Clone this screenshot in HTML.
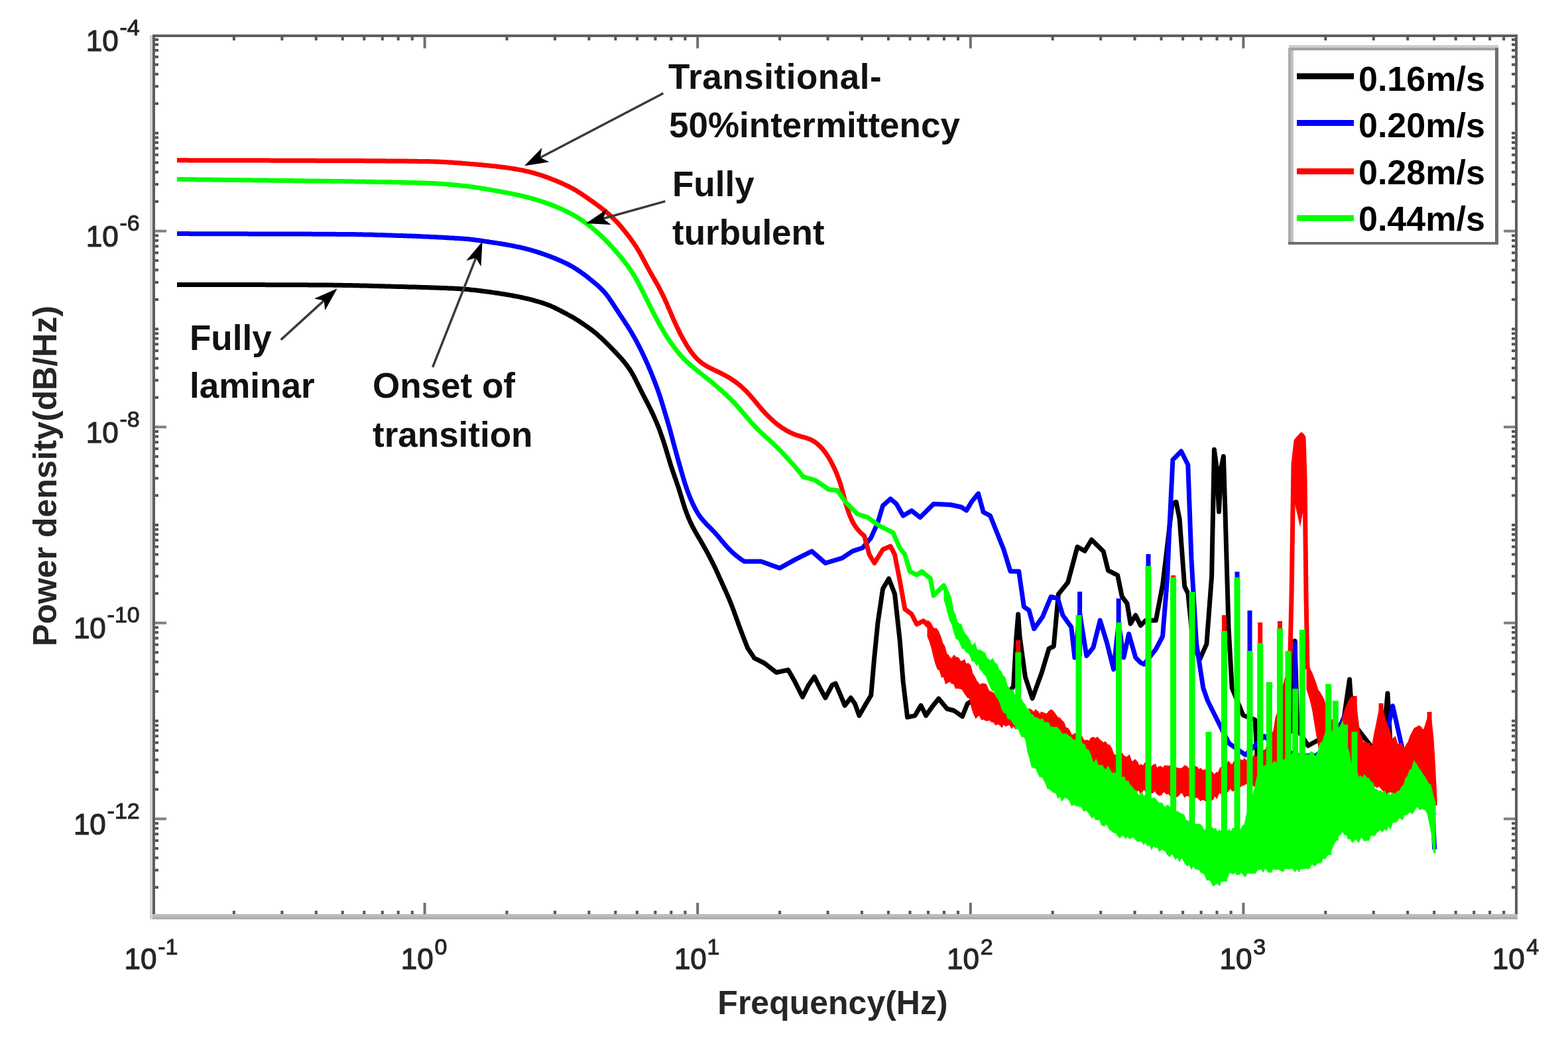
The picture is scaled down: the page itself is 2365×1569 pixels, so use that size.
<!DOCTYPE html>
<html><head><meta charset="utf-8"><title>Power density spectrum</title><style>html,body{margin:0;padding:0;background:#fff;overflow:hidden}svg{display:block}</style></head><body>
<svg width="2365" height="1569" viewBox="0 0 2365 1569">
<rect x="0" y="0" width="2365" height="1569" fill="#fff"/>
<polyline points="267.0,429.5 272.4,429.5 273.6,429.5 275.0,429.5 276.5,429.5 278.0,429.5 279.7,429.5 281.5,429.5 283.3,429.5 285.2,429.5 287.1,429.5 289.1,429.5 291.0,429.5 293.0,429.5 295.0,429.5 297.0,429.5 299.0,429.5 301.0,429.5 303.0,429.5 305.0,429.5 307.0,429.5 309.0,429.5 311.0,429.5 313.0,429.5 315.0,429.5 317.0,429.5 319.0,429.5 321.0,429.5 323.0,429.5 325.0,429.6 327.0,429.6 329.0,429.6 331.0,429.6 333.0,429.6 335.0,429.6 337.0,429.6 339.0,429.6 341.0,429.6 343.0,429.6 345.0,429.6 347.0,429.6 349.0,429.6 351.0,429.6 353.0,429.6 355.0,429.6 357.0,429.6 359.0,429.6 361.0,429.6 363.0,429.6 365.0,429.6 367.0,429.6 369.0,429.6 371.0,429.6 373.0,429.6 375.0,429.6 377.0,429.6 379.0,429.6 381.0,429.6 383.0,429.6 385.0,429.6 387.0,429.6 389.0,429.6 391.0,429.6 393.0,429.6 395.0,429.6 397.0,429.6 399.0,429.6 401.0,429.7 403.0,429.7 405.0,429.7 407.0,429.7 409.0,429.7 411.0,429.7 413.0,429.7 415.0,429.7 417.0,429.7 419.0,429.7 421.0,429.7 423.0,429.7 425.0,429.7 427.0,429.7 429.0,429.7 431.0,429.7 433.0,429.7 435.0,429.7 437.0,429.8 439.0,429.8 441.0,429.8 443.0,429.8 445.0,429.8 447.0,429.8 449.0,429.8 451.0,429.8 453.0,429.8 455.0,429.8 457.0,429.8 459.0,429.8 461.0,429.8 463.0,429.8 465.0,429.9 467.0,429.9 469.0,429.9 471.0,429.9 473.0,429.9 475.0,429.9 477.0,429.9 479.0,429.9 481.0,430.0 483.0,430.0 485.0,430.0 487.0,430.0 489.0,430.0 491.0,430.0 493.0,430.1 495.0,430.1 497.0,430.1 499.0,430.1 501.0,430.1 503.0,430.2 505.0,430.2 507.0,430.2 509.0,430.2 511.0,430.3 513.0,430.3 515.0,430.3 517.0,430.4 519.0,430.4 521.0,430.4 523.0,430.5 525.0,430.5 527.0,430.5 529.0,430.6 531.0,430.6 533.0,430.7 535.0,430.7 537.0,430.8 539.0,430.8 541.0,430.8 543.0,430.9 545.0,430.9 547.0,431.0 549.0,431.0 551.0,431.1 553.0,431.1 555.0,431.2 557.0,431.2 559.0,431.3 561.0,431.3 563.0,431.4 565.0,431.4 567.0,431.5 569.0,431.6 571.0,431.6 573.0,431.7 575.0,431.7 577.0,431.8 579.0,431.8 581.0,431.9 583.0,431.9 585.0,432.0 587.0,432.0 589.0,432.1 591.0,432.2 593.0,432.2 595.0,432.3 597.0,432.3 599.0,432.4 601.0,432.4 603.0,432.5 605.0,432.5 607.0,432.6 609.0,432.6 611.0,432.7 613.0,432.7 615.0,432.8 617.0,432.9 619.0,432.9 621.0,433.0 623.0,433.0 625.0,433.1 627.0,433.1 629.0,433.2 631.0,433.2 633.0,433.3 635.0,433.4 637.0,433.4 639.0,433.5 641.0,433.5 643.0,433.6 645.0,433.7 647.0,433.7 649.0,433.8 650.9,433.9 652.9,433.9 654.9,434.0 656.9,434.1 658.9,434.2 660.9,434.2 662.9,434.3 664.9,434.4 666.9,434.4 668.9,434.5 670.9,434.6 672.9,434.7 674.9,434.8 676.9,434.9 678.9,434.9 680.9,435.0 682.9,435.1 684.9,435.2 686.9,435.3 688.9,435.5 690.9,435.6 692.9,435.7 694.9,435.8 696.9,436.0 698.9,436.1 700.9,436.3 702.9,436.4 704.9,436.6 706.9,436.8 708.9,437.0 710.8,437.2 712.8,437.4 714.8,437.6 716.8,437.8 718.8,438.0 720.8,438.3 722.8,438.5 724.8,438.7 726.7,439.0 728.7,439.2 730.7,439.5 732.7,439.7 734.7,440.0 736.7,440.3 738.6,440.5 740.6,440.8 742.6,441.1 744.6,441.4 746.6,441.7 748.5,441.9 750.5,442.2 752.5,442.5 754.5,442.9 756.4,443.2 758.4,443.5 760.4,443.8 762.4,444.1 764.3,444.5 766.3,444.8 768.3,445.1 770.2,445.5 772.2,445.8 774.2,446.2 776.1,446.6 778.1,447.0 780.1,447.3 782.0,447.7 784.0,448.1 785.9,448.5 787.9,449.0 789.9,449.4 791.8,449.8 793.7,450.3 795.7,450.7 797.6,451.2 799.6,451.7 801.5,452.2 803.4,452.7 805.4,453.2 807.3,453.8 809.2,454.3 811.1,454.9 813.1,455.4 815.0,456.0 816.9,456.6 818.8,457.2 820.7,457.8 822.6,458.5 824.4,459.2 826.3,459.9 828.1,460.6 830.0,461.3 831.8,462.1 833.6,462.9 835.4,463.7 837.2,464.6 839.0,465.5 840.8,466.4 842.6,467.3 844.4,468.2 846.1,469.1 847.9,470.0 849.7,470.9 851.4,471.9 853.2,472.8 855.0,473.7 856.7,474.7 858.5,475.7 860.2,476.6 862.0,477.6 863.7,478.6 865.4,479.6 867.1,480.6 868.8,481.7 870.5,482.7 872.2,483.8 873.9,484.9 875.5,486.0 877.2,487.1 878.9,488.2 880.5,489.3 882.2,490.5 883.8,491.6 885.4,492.7 887.1,493.9 888.7,495.1 890.3,496.2 891.9,497.4 893.5,498.6 895.1,499.9 896.6,501.1 898.2,502.4 899.7,503.6 901.2,504.9 902.7,506.3 904.2,507.6 905.7,508.9 907.2,510.3 908.6,511.6 910.1,513.0 911.5,514.4 912.9,515.8 914.4,517.2 915.8,518.6 917.2,520.0 918.6,521.4 920.0,522.9 921.4,524.3 922.8,525.7 924.2,527.1 925.6,528.6 927.0,530.0 928.4,531.5 929.7,532.9 931.1,534.4 932.5,535.9 933.8,537.3 935.2,538.8 936.5,540.3 937.8,541.8 939.1,543.3 940.4,544.8 941.7,546.4 942.9,547.9 944.2,549.5 945.4,551.1 946.6,552.7 947.7,554.3 948.9,555.9 950.0,557.6 951.1,559.2 952.1,560.9 953.2,562.6 954.1,564.4 955.1,566.1 956.1,567.8 957.0,569.6 957.9,571.4 958.8,573.2 959.7,575.0 960.6,576.8 961.5,578.5 962.3,580.3 963.2,582.1 964.1,583.9 965.0,585.7 965.9,587.5 966.8,589.3 967.7,591.1 968.6,592.9 969.5,594.6 970.4,596.4 971.4,598.2 972.3,600.0 973.2,601.7 974.1,603.5 975.1,605.3 976.0,607.1 976.9,608.8 977.8,610.6 978.7,612.4 979.6,614.2 980.5,616.0 981.4,617.8 982.2,619.6 983.1,621.4 984.0,623.2 984.8,625.0 985.6,626.8 986.5,628.6 987.3,630.5 988.1,632.3 988.9,634.1 989.7,636.0 990.5,637.8 991.2,639.6 992.0,641.5 992.7,643.3 993.5,645.2 994.2,647.1 994.9,648.9 995.6,650.8 996.3,652.7 996.9,654.6 997.6,656.5 998.2,658.3 998.9,660.2 999.5,662.1 1000.1,664.0 1000.8,665.9 1001.4,667.8 1002.0,669.7 1002.6,671.7 1003.2,673.6 1003.8,675.5 1004.4,677.4 1004.9,679.3 1005.5,681.2 1006.1,683.1 1006.7,685.0 1007.2,687.0 1007.8,688.9 1008.4,690.8 1009.0,692.7 1009.6,694.6 1010.1,696.5 1010.7,698.4 1011.3,700.4 1011.9,702.3 1012.5,704.2 1013.2,706.1 1013.8,708.0 1014.4,709.9 1015.0,711.8 1015.7,713.6 1016.3,715.5 1017.0,717.4 1017.6,719.3 1018.3,721.2 1019.0,723.1 1019.6,725.0 1020.3,726.9 1020.9,728.8 1021.6,730.7 1022.2,732.5 1022.9,734.4 1023.5,736.3 1024.1,738.2 1024.7,740.1 1025.3,742.1 1025.9,744.0 1026.5,745.9 1027.1,747.8 1027.7,749.7 1028.3,751.6 1028.8,753.5 1029.4,755.4 1030.0,757.3 1030.6,759.3 1031.2,761.2 1031.8,763.1 1032.4,765.0 1033.0,766.9 1033.7,768.8 1034.4,770.6 1035.0,772.5 1035.7,774.4 1036.5,776.3 1037.2,778.1 1037.9,780.0 1038.7,781.8 1039.5,783.6 1040.3,785.5 1041.1,787.3 1042.0,789.1 1042.9,790.9 1043.7,792.7 1044.6,794.5 1045.5,796.2 1046.5,798.0 1047.4,799.8 1048.4,801.5 1049.4,803.2 1050.4,805.0 1051.4,806.7 1052.4,808.4 1053.4,810.2 1054.4,811.9 1055.4,813.6 1056.4,815.3 1057.4,817.1 1058.4,818.8 1059.4,820.5 1060.4,822.2 1061.4,824.0 1062.4,825.7 1063.4,827.5 1064.4,829.2 1065.3,831.0 1066.3,832.7 1067.2,834.5 1068.2,836.2 1069.1,838.0 1070.1,839.8 1071.0,841.5 1071.9,843.3 1072.8,845.1 1073.7,846.9 1074.6,848.7 1075.5,850.4 1076.4,852.2 1077.3,854.0 1078.2,855.8 1079.0,857.6 1079.9,859.5 1080.7,861.3 1081.5,863.1 1082.4,864.9 1083.2,866.7 1084.0,868.6 1084.8,870.4 1085.6,872.2 1086.5,874.0 1087.3,875.9 1088.1,877.7 1088.9,879.5 1089.7,881.3 1090.6,883.2 1091.4,885.0 1092.2,886.8 1093.0,888.6 1093.9,890.4 1094.7,892.3 1095.5,894.1 1096.3,895.9 1097.1,897.7 1097.9,899.6 1098.7,901.4 1099.5,903.2 1100.3,905.1 1101.0,906.9 1101.8,908.8 1102.5,910.6 1103.3,912.5 1104.0,914.4 1104.7,916.2 1105.4,918.1 1106.1,920.0 1106.8,921.9 1107.5,923.7 1108.1,925.6 1108.8,927.5 1109.5,929.4 1110.2,931.3 1110.8,933.2 1111.5,935.0 1112.2,936.9 1112.9,938.8 1113.5,940.7 1114.2,942.6 1114.9,944.4 1115.6,946.3 1116.3,948.2 1117.0,950.1 1117.7,951.9 1118.4,953.8 1119.1,955.6 1119.8,957.4 1120.5,959.2 1121.1,961.0 1121.8,962.7 1122.4,964.3 1123.1,965.9 1123.6,967.4 1124.2,968.8 1124.7,970.0 1125.1,971.2 1127.6,977.6 1137.8,992.9 1153.0,1000.5 1171.0,1014.5 1188.8,1010.7 1199.0,1028.6 1210.5,1051.5 1219.4,1033.7 1228.3,1021.0 1237.2,1038.8 1244.9,1052.8 1255.1,1033.7 1260.2,1031.1 1267.9,1049.0 1274.2,1064.3 1283.2,1052.8 1289.5,1061.7 1295.9,1079.6 1306.1,1061.7 1313.8,1049.0 1318.9,990.3 1324.0,939.3 1331.6,888.3 1340.6,873.0 1349.5,896.0 1357.1,964.8 1362.2,1028.6 1368.6,1082.1 1380.1,1079.6 1389.0,1064.3 1396.7,1079.6 1405.6,1066.8 1415.8,1054.0 1428.6,1069.4 1438.8,1072.0 1451.5,1080.9 1459.2,1061.7 1466.8,1056.6 1490.0,1070.0 1510.0,1060.0 1528.6,1035.7 1533.0,960.0 1535.7,926.8 1538.0,960.0 1546.4,1021.4 1557.1,1053.6 1571.4,1014.3 1582.1,978.6 1589.3,975.0 1596.4,896.4 1610.7,878.6 1625.0,825.0 1636.2,831.3 1646.4,814.3 1664.3,832.0 1671.4,860.7 1685.7,867.9 1692.3,900.2 1700.0,910.4 1705.1,941.0 1712.8,928.3 1720.4,943.6 1728.1,935.9 1743.4,935.9 1753.6,882.3 1761.2,818.6 1768.0,760.0 1774.0,757.3 1779.1,782.9 1786.7,884.9 1791.8,895.0 1799.5,971.6 1809.7,994.6 1819.9,971.6 1827.6,869.6 1831.4,678.3 1835.0,705.0 1838.5,772.0 1842.0,705.0 1845.4,688.5 1848.0,772.7 1853.0,946.1 1858.2,1038.0 1875.0,1079.0 1893.0,1086.0 1896.0,1139.0 1920.0,1130.0 1950.0,1100.0 1953.0,967.0 1957.0,1100.0 1973.0,1125.0 2000.0,1110.0 2026.0,1090.0 2035.5,1025.0 2040.0,1090.0 2068.0,1126.0 2081.4,1172.2 2092.9,1046.0 2098.0,1140.0 2104.4,1157.0 2130.0,1170.0 2163.0,1230.0" fill="none" stroke="#000" stroke-width="7" stroke-linejoin="round" stroke-linecap="butt" />
<polyline points="267.0,352.6 272.4,352.6 273.6,352.6 275.0,352.6 276.5,352.6 278.0,352.6 279.7,352.6 281.5,352.6 283.3,352.6 285.2,352.6 287.1,352.7 289.1,352.7 291.0,352.7 293.0,352.7 295.0,352.7 297.0,352.7 299.0,352.7 301.0,352.7 303.0,352.7 305.0,352.7 307.0,352.7 309.0,352.7 311.0,352.7 313.0,352.7 315.0,352.7 317.0,352.7 319.0,352.7 321.0,352.7 323.0,352.7 325.0,352.7 327.0,352.7 329.0,352.7 331.0,352.8 333.0,352.8 335.0,352.8 337.0,352.8 339.0,352.8 341.0,352.8 343.0,352.8 345.0,352.8 347.0,352.8 349.0,352.8 351.0,352.8 353.0,352.8 355.0,352.8 357.0,352.8 359.0,352.8 361.0,352.8 363.0,352.8 365.0,352.8 367.0,352.8 369.0,352.8 371.0,352.8 373.0,352.8 375.0,352.9 377.0,352.9 379.0,352.9 381.0,352.9 383.0,352.9 385.0,352.9 387.0,352.9 389.0,352.9 391.0,352.9 393.0,352.9 395.0,352.9 397.0,352.9 399.0,352.9 401.0,352.9 403.0,352.9 405.0,352.9 407.0,352.9 409.0,352.9 411.0,352.9 413.0,353.0 415.0,353.0 417.0,353.0 419.0,353.0 421.0,353.0 423.0,353.0 425.0,353.0 427.0,353.0 429.0,353.0 431.0,353.0 433.0,353.0 435.0,353.0 437.0,353.0 439.0,353.0 441.0,353.0 443.0,353.0 445.0,353.1 447.0,353.1 449.0,353.1 451.0,353.1 453.0,353.1 455.0,353.1 457.0,353.1 459.0,353.1 461.0,353.1 463.0,353.1 465.0,353.1 467.0,353.1 469.0,353.1 471.0,353.2 473.0,353.2 475.0,353.2 477.0,353.2 479.0,353.2 481.0,353.2 483.0,353.2 485.0,353.2 487.0,353.2 489.0,353.2 491.0,353.3 493.0,353.3 495.0,353.3 497.0,353.3 499.0,353.3 501.0,353.3 503.0,353.3 505.0,353.3 507.0,353.4 509.0,353.4 511.0,353.4 513.0,353.4 515.0,353.4 517.0,353.4 519.0,353.5 521.0,353.5 523.0,353.5 525.0,353.5 527.0,353.5 529.0,353.6 531.0,353.6 533.0,353.6 535.0,353.6 537.0,353.7 539.0,353.7 541.0,353.7 543.0,353.8 545.0,353.8 547.0,353.8 549.0,353.9 551.0,353.9 553.0,354.0 555.0,354.0 557.0,354.0 559.0,354.1 561.0,354.1 563.0,354.2 565.0,354.2 567.0,354.3 569.0,354.4 571.0,354.4 573.0,354.5 575.0,354.5 577.0,354.6 579.0,354.7 581.0,354.7 583.0,354.8 585.0,354.9 587.0,354.9 589.0,355.0 591.0,355.1 593.0,355.2 595.0,355.2 597.0,355.3 599.0,355.4 601.0,355.4 603.0,355.5 605.0,355.6 607.0,355.6 609.0,355.7 611.0,355.8 613.0,355.8 615.0,355.9 617.0,356.0 619.0,356.0 621.0,356.1 623.0,356.2 625.0,356.3 627.0,356.3 629.0,356.4 631.0,356.5 632.9,356.6 634.9,356.7 636.9,356.8 638.9,356.9 640.9,356.9 642.9,357.0 644.9,357.1 646.9,357.2 648.9,357.3 650.9,357.4 652.9,357.5 654.9,357.6 656.9,357.7 658.9,357.8 660.9,357.9 662.9,358.0 664.9,358.1 666.9,358.2 668.9,358.3 670.9,358.4 672.9,358.5 674.9,358.7 676.9,358.8 678.9,358.9 680.9,359.0 682.9,359.1 684.9,359.2 686.9,359.4 688.9,359.5 690.9,359.6 692.9,359.7 694.9,359.9 696.9,360.0 698.8,360.1 700.8,360.3 702.8,360.5 704.8,360.6 706.8,360.8 708.8,361.0 710.8,361.2 712.8,361.4 714.8,361.7 716.7,361.9 718.7,362.2 720.7,362.4 722.7,362.7 724.7,363.0 726.6,363.3 728.6,363.6 730.6,363.9 732.6,364.2 734.6,364.5 736.5,364.8 738.5,365.1 740.5,365.4 742.5,365.7 744.4,366.0 746.4,366.3 748.4,366.6 750.4,366.9 752.3,367.2 754.3,367.5 756.3,367.8 758.3,368.2 760.2,368.5 762.2,368.8 764.2,369.2 766.1,369.5 768.1,369.9 770.1,370.2 772.0,370.6 774.0,371.0 776.0,371.4 777.9,371.8 779.9,372.2 781.8,372.6 783.8,373.0 785.7,373.5 787.7,373.9 789.6,374.4 791.6,374.9 793.5,375.4 795.4,375.9 797.4,376.4 799.3,376.9 801.2,377.4 803.2,378.0 805.1,378.6 807.0,379.1 808.9,379.7 810.8,380.3 812.7,380.9 814.6,381.6 816.5,382.2 818.4,382.9 820.3,383.5 822.2,384.2 824.0,384.9 825.9,385.5 827.8,386.2 829.7,386.9 831.5,387.7 833.4,388.4 835.2,389.1 837.1,389.9 839.0,390.6 840.8,391.4 842.6,392.2 844.5,393.0 846.3,393.8 848.1,394.6 849.9,395.4 851.7,396.3 853.5,397.1 855.3,398.0 857.1,398.9 858.9,399.9 860.6,400.8 862.4,401.8 864.1,402.8 865.8,403.8 867.5,404.9 869.2,405.9 870.9,407.0 872.5,408.1 874.2,409.3 875.8,410.4 877.4,411.6 879.0,412.7 880.7,413.9 882.3,415.1 883.8,416.3 885.4,417.5 887.0,418.8 888.6,420.0 890.1,421.3 891.7,422.5 893.2,423.8 894.8,425.1 896.3,426.3 897.8,427.6 899.4,428.9 900.9,430.2 902.4,431.5 903.8,432.9 905.3,434.2 906.7,435.6 908.1,437.0 909.5,438.5 910.9,439.9 912.2,441.4 913.4,442.9 914.7,444.5 915.9,446.0 917.1,447.6 918.3,449.2 919.4,450.9 920.5,452.5 921.7,454.2 922.8,455.8 923.9,457.5 925.0,459.2 926.0,460.8 927.1,462.5 928.2,464.2 929.3,465.9 930.4,467.5 931.5,469.2 932.6,470.9 933.7,472.5 934.8,474.2 935.9,475.9 937.0,477.5 938.1,479.2 939.2,480.9 940.3,482.5 941.4,484.2 942.5,485.9 943.6,487.6 944.7,489.2 945.8,490.9 946.9,492.6 947.9,494.3 949.0,496.0 950.1,497.7 951.1,499.4 952.1,501.1 953.1,502.8 954.2,504.6 955.1,506.3 956.1,508.0 957.1,509.8 958.1,511.5 959.0,513.3 960.0,515.0 960.9,516.8 961.9,518.6 962.8,520.3 963.7,522.1 964.6,523.9 965.5,525.7 966.4,527.5 967.3,529.3 968.2,531.1 969.0,532.9 969.9,534.7 970.8,536.5 971.6,538.3 972.4,540.1 973.3,541.9 974.1,543.7 974.9,545.6 975.7,547.4 976.6,549.2 977.4,551.0 978.1,552.9 978.9,554.7 979.7,556.6 980.5,558.4 981.3,560.2 982.0,562.1 982.8,563.9 983.5,565.8 984.3,567.7 985.0,569.5 985.7,571.4 986.5,573.2 987.2,575.1 987.9,577.0 988.6,578.8 989.3,580.7 990.0,582.6 990.7,584.5 991.4,586.3 992.1,588.2 992.7,590.1 993.4,592.0 994.0,593.9 994.7,595.8 995.3,597.7 995.9,599.6 996.5,601.5 997.2,603.4 997.7,605.3 998.3,607.2 998.9,609.1 999.5,611.0 1000.1,612.9 1000.6,614.9 1001.2,616.8 1001.8,618.7 1002.4,620.6 1002.9,622.5 1003.5,624.4 1004.1,626.4 1004.7,628.3 1005.2,630.2 1005.8,632.1 1006.4,634.0 1006.9,635.9 1007.5,637.9 1008.1,639.8 1008.6,641.7 1009.2,643.6 1009.7,645.5 1010.3,647.5 1010.8,649.4 1011.3,651.3 1011.8,653.3 1012.3,655.2 1012.9,657.1 1013.4,659.1 1013.9,661.0 1014.4,662.9 1014.9,664.9 1015.4,666.8 1015.9,668.7 1016.4,670.7 1017.0,672.6 1017.5,674.5 1018.0,676.5 1018.5,678.4 1019.1,680.3 1019.6,682.2 1020.1,684.2 1020.6,686.1 1021.2,688.0 1021.7,689.9 1022.3,691.9 1022.8,693.8 1023.3,695.7 1023.9,697.6 1024.4,699.6 1025.0,701.5 1025.5,703.4 1026.1,705.3 1026.6,707.3 1027.2,709.2 1027.7,711.1 1028.3,713.0 1028.8,715.0 1029.4,716.9 1029.9,718.8 1030.5,720.7 1031.1,722.6 1031.6,724.6 1032.2,726.5 1032.8,728.4 1033.4,730.3 1034.0,732.2 1034.7,734.1 1035.3,736.0 1036.0,737.9 1036.6,739.7 1037.3,741.6 1038.0,743.5 1038.7,745.4 1039.5,747.2 1040.2,749.1 1040.9,750.9 1041.7,752.8 1042.5,754.6 1043.3,756.4 1044.1,758.3 1044.9,760.1 1045.8,761.9 1046.7,763.7 1047.6,765.5 1048.5,767.2 1049.4,769.0 1050.4,770.7 1051.4,772.4 1052.4,774.1 1053.5,775.8 1054.6,777.5 1055.7,779.1 1056.9,780.7 1058.1,782.3 1059.4,783.8 1060.6,785.3 1062.0,786.8 1063.3,788.3 1064.7,789.7 1066.0,791.2 1067.4,792.6 1068.8,794.0 1070.2,795.4 1071.6,796.8 1073.0,798.2 1074.4,799.7 1075.8,801.1 1077.2,802.5 1078.5,804.0 1079.9,805.5 1081.2,807.0 1082.5,808.5 1083.8,810.0 1085.1,811.5 1086.4,813.1 1087.6,814.6 1088.9,816.1 1090.2,817.7 1091.5,819.2 1092.8,820.7 1094.1,822.2 1095.4,823.7 1096.7,825.2 1098.1,826.7 1099.5,828.1 1100.8,829.5 1102.2,830.9 1103.6,832.3 1105.1,833.6 1106.5,834.9 1107.9,836.1 1109.3,837.3 1110.7,838.4 1112.0,839.4 1113.2,840.4 1114.4,841.3 1115.5,842.1 1116.4,842.8 1122.4,847.0 1148.0,847.0 1176.0,857.1 1199.0,844.4 1224.5,831.6 1244.9,849.5 1270.4,841.8 1285.7,831.6 1301.0,826.5 1313.8,811.2 1324.0,788.3 1331.6,762.8 1343.1,752.6 1352.0,760.2 1362.2,778.0 1375.0,770.4 1387.8,780.6 1408.2,760.2 1433.7,761.5 1450.0,765.0 1457.7,770.1 1465.3,757.3 1475.5,744.6 1483.2,772.7 1493.4,777.8 1503.6,803.3 1513.8,828.8 1524.0,862.0 1536.7,862.0 1544.4,915.5 1552.0,920.6 1559.7,948.7 1572.4,930.8 1585.2,900.2 1595.4,902.8 1603.0,928.3 1615.8,946.1 1620.9,992.0 1628.6,925.0 1638.8,989.5 1649.0,976.7 1659.2,935.9 1669.4,969.1 1679.6,1009.9 1687.2,940.0 1694.9,992.0 1702.6,956.3 1712.8,992.0 1720.4,999.7 1725.5,1002.2 1743.4,979.3 1753.6,960.0 1760.7,871.4 1763.8,798.2 1768.9,693.6 1781.6,680.8 1791.8,701.2 1797.0,844.0 1804.6,971.6 1814.8,1038.0 1821.4,1057.0 1835.7,1085.7 1853.6,1121.4 1878.6,1139.0 1907.0,1110.7 1930.0,1130.0 1960.0,1140.0 1985.0,1140.0 2010.0,1120.0 2035.5,1063.2 2050.0,1120.0 2066.0,1134.0 2079.5,1164.6 2100.6,1065.0 2114.0,1124.4 2125.5,1172.2 2148.4,1162.7 2160.0,1200.0 2163.7,1281.3" fill="none" stroke="#00f" stroke-width="7" stroke-linejoin="round" stroke-linecap="butt" />
<line x1="1628.6" y1="892.6" x2="1628.6" y2="990.0" stroke="#00f" stroke-width="7"/><line x1="1687.2" y1="902.8" x2="1687.2" y2="1000.0" stroke="#00f" stroke-width="7"/><line x1="1732.0" y1="836.0" x2="1732.0" y2="1000.0" stroke="#00f" stroke-width="7"/><line x1="1866.0" y1="862.5" x2="1866.0" y2="1130.0" stroke="#00f" stroke-width="7"/><line x1="1885.0" y1="921.0" x2="1885.0" y2="1139.0" stroke="#00f" stroke-width="7"/><line x1="1953.5" y1="968.0" x2="1953.5" y2="1140.0" stroke="#00f" stroke-width="7"/>
<polyline points="267.0,241.8 272.4,241.8 273.6,241.8 275.0,241.8 276.5,241.8 278.0,241.8 279.7,241.8 281.5,241.8 283.3,241.8 285.2,241.9 287.1,241.9 289.1,241.9 291.0,241.9 293.0,241.9 295.0,241.9 297.0,241.9 299.0,241.9 301.0,241.9 303.0,241.9 305.0,241.9 307.0,241.9 309.0,241.9 311.0,241.9 313.0,241.9 315.0,241.9 317.0,241.9 319.0,241.9 321.0,241.9 323.0,241.9 325.0,242.0 327.0,242.0 329.0,242.0 331.0,242.0 333.0,242.0 335.0,242.0 337.0,242.0 339.0,242.0 341.0,242.0 343.0,242.0 345.0,242.0 347.0,242.0 349.0,242.0 351.0,242.0 353.0,242.0 355.0,242.0 357.0,242.0 359.0,242.0 361.0,242.0 363.0,242.0 365.0,242.0 367.0,242.0 369.0,242.1 371.0,242.1 373.0,242.1 375.0,242.1 377.0,242.1 379.0,242.1 381.0,242.1 383.0,242.1 385.0,242.1 387.0,242.1 389.0,242.1 391.0,242.1 393.0,242.1 395.0,242.1 397.0,242.1 399.0,242.1 401.0,242.1 403.0,242.1 405.0,242.1 407.0,242.1 409.0,242.2 411.0,242.2 413.0,242.2 415.0,242.2 417.0,242.2 419.0,242.2 421.0,242.2 423.0,242.2 425.0,242.2 427.0,242.2 429.0,242.2 431.0,242.2 433.0,242.2 435.0,242.2 437.0,242.2 439.0,242.2 441.0,242.2 443.0,242.2 445.0,242.3 447.0,242.3 449.0,242.3 451.0,242.3 453.0,242.3 455.0,242.3 457.0,242.3 459.0,242.3 461.0,242.3 463.0,242.3 465.0,242.3 467.0,242.3 469.0,242.3 471.0,242.3 473.0,242.3 475.0,242.3 477.0,242.4 479.0,242.4 481.0,242.4 483.0,242.4 485.0,242.4 487.0,242.4 489.0,242.4 491.0,242.4 493.0,242.4 495.0,242.4 497.0,242.4 499.0,242.4 501.0,242.4 503.0,242.4 505.0,242.5 507.0,242.5 509.0,242.5 511.0,242.5 513.0,242.5 515.0,242.5 517.0,242.5 519.0,242.5 521.0,242.5 523.0,242.5 525.0,242.5 527.0,242.5 529.0,242.6 531.0,242.6 533.0,242.6 535.0,242.6 537.0,242.6 539.0,242.6 541.0,242.6 543.0,242.6 545.0,242.6 547.0,242.6 549.0,242.6 551.0,242.7 553.0,242.7 555.0,242.7 557.0,242.7 559.0,242.7 561.0,242.7 563.0,242.7 565.0,242.7 567.0,242.8 569.0,242.8 571.0,242.8 573.0,242.8 575.0,242.8 577.0,242.8 579.0,242.8 581.0,242.8 583.0,242.9 585.0,242.9 587.0,242.9 589.0,242.9 591.0,242.9 593.0,242.9 595.0,243.0 597.0,243.0 599.0,243.0 601.0,243.0 603.0,243.0 605.0,243.1 607.0,243.1 609.0,243.1 611.0,243.1 613.0,243.1 615.0,243.2 617.0,243.2 619.0,243.2 621.0,243.2 623.0,243.3 625.0,243.3 627.0,243.3 629.0,243.3 631.0,243.4 633.0,243.4 635.0,243.4 637.0,243.4 639.0,243.5 641.0,243.5 643.0,243.5 645.0,243.6 647.0,243.6 649.0,243.7 651.0,243.7 653.0,243.8 655.0,243.8 657.0,243.9 659.0,244.0 661.0,244.0 663.0,244.1 665.0,244.2 667.0,244.3 669.0,244.4 671.0,244.5 673.0,244.6 675.0,244.7 677.0,244.9 679.0,245.0 681.0,245.1 682.9,245.3 684.9,245.4 686.9,245.5 688.9,245.7 690.9,245.8 692.9,246.0 694.9,246.1 696.9,246.3 698.9,246.5 700.9,246.6 702.9,246.8 704.9,246.9 706.9,247.1 708.9,247.3 710.9,247.4 712.9,247.6 714.8,247.7 716.8,247.9 718.8,248.1 720.8,248.3 722.8,248.4 724.8,248.6 726.8,248.8 728.8,249.0 730.8,249.2 732.8,249.4 734.8,249.6 736.8,249.8 738.7,250.0 740.7,250.2 742.7,250.4 744.7,250.6 746.7,250.8 748.7,251.0 750.7,251.3 752.7,251.5 754.6,251.7 756.6,252.0 758.6,252.2 760.6,252.5 762.6,252.8 764.6,253.0 766.5,253.3 768.5,253.6 770.5,253.9 772.5,254.2 774.4,254.5 776.4,254.8 778.4,255.2 780.4,255.5 782.3,255.9 784.3,256.2 786.3,256.6 788.2,257.0 790.2,257.4 792.1,257.8 794.1,258.3 796.0,258.7 798.0,259.2 799.9,259.7 801.8,260.2 803.8,260.7 805.7,261.2 807.6,261.8 809.5,262.3 811.4,262.9 813.4,263.5 815.3,264.1 817.2,264.7 819.1,265.3 820.9,266.0 822.8,266.7 824.7,267.3 826.6,268.0 828.5,268.7 830.3,269.4 832.2,270.2 834.0,270.9 835.9,271.6 837.8,272.4 839.6,273.1 841.4,273.9 843.3,274.7 845.1,275.5 847.0,276.3 848.8,277.1 850.6,277.9 852.4,278.8 854.2,279.6 856.0,280.5 857.8,281.4 859.6,282.3 861.4,283.2 863.1,284.1 864.9,285.1 866.6,286.1 868.3,287.1 870.0,288.1 871.7,289.2 873.4,290.2 875.1,291.3 876.8,292.4 878.4,293.5 880.1,294.6 881.7,295.8 883.4,296.9 885.0,298.0 886.7,299.2 888.3,300.3 889.9,301.5 891.6,302.6 893.2,303.8 894.8,305.0 896.5,306.1 898.1,307.3 899.7,308.5 901.3,309.7 902.9,310.8 904.5,312.1 906.1,313.3 907.7,314.5 909.2,315.7 910.8,317.0 912.4,318.2 913.9,319.5 915.4,320.8 917.0,322.1 918.5,323.4 920.0,324.7 921.4,326.0 922.9,327.4 924.3,328.8 925.8,330.2 927.2,331.6 928.6,333.0 930.0,334.4 931.3,335.9 932.7,337.4 934.0,338.9 935.3,340.4 936.6,341.9 937.9,343.4 939.2,345.0 940.4,346.5 941.7,348.1 942.9,349.6 944.2,351.2 945.4,352.8 946.6,354.3 947.9,355.9 949.1,357.5 950.3,359.1 951.4,360.7 952.6,362.3 953.8,364.0 954.9,365.6 956.1,367.2 957.2,368.9 958.3,370.5 959.4,372.2 960.5,373.9 961.5,375.6 962.6,377.3 963.6,379.0 964.6,380.7 965.6,382.5 966.6,384.2 967.5,386.0 968.5,387.7 969.4,389.5 970.4,391.2 971.3,393.0 972.3,394.8 973.2,396.6 974.1,398.3 975.1,400.1 976.0,401.9 976.9,403.6 977.9,405.4 978.8,407.1 979.8,408.9 980.8,410.6 981.8,412.4 982.8,414.1 983.7,415.8 984.7,417.6 985.7,419.3 986.7,421.0 987.7,422.8 988.7,424.5 989.7,426.2 990.7,428.0 991.7,429.7 992.7,431.5 993.6,433.2 994.6,435.0 995.5,436.8 996.4,438.5 997.3,440.3 998.2,442.1 999.1,443.9 1000.0,445.7 1000.8,447.5 1001.7,449.3 1002.5,451.1 1003.3,452.9 1004.1,454.8 1005.0,456.6 1005.8,458.4 1006.6,460.3 1007.3,462.1 1008.1,463.9 1008.9,465.8 1009.7,467.6 1010.5,469.4 1011.3,471.3 1012.1,473.1 1012.9,475.0 1013.6,476.8 1014.4,478.6 1015.2,480.5 1016.0,482.3 1016.8,484.1 1017.7,486.0 1018.5,487.8 1019.3,489.6 1020.2,491.4 1021.0,493.2 1021.9,495.0 1022.8,496.8 1023.6,498.6 1024.5,500.4 1025.4,502.2 1026.3,504.0 1027.3,505.7 1028.2,507.5 1029.2,509.3 1030.1,511.0 1031.1,512.8 1032.1,514.5 1033.1,516.2 1034.1,518.0 1035.1,519.7 1036.1,521.4 1037.2,523.1 1038.3,524.7 1039.4,526.4 1040.5,528.0 1041.6,529.7 1042.8,531.3 1044.0,532.9 1045.2,534.4 1046.5,536.0 1047.8,537.5 1049.1,539.0 1050.5,540.4 1051.8,541.8 1053.3,543.2 1054.7,544.5 1056.2,545.8 1057.7,547.0 1059.3,548.2 1060.9,549.3 1062.6,550.4 1064.3,551.4 1066.0,552.4 1067.7,553.4 1069.4,554.3 1071.2,555.3 1073.0,556.2 1074.8,557.0 1076.6,557.9 1078.4,558.8 1080.2,559.6 1082.0,560.5 1083.8,561.3 1085.6,562.2 1087.4,563.1 1089.2,564.0 1090.9,564.9 1092.7,565.8 1094.5,566.8 1096.2,567.8 1097.9,568.7 1099.6,569.8 1101.3,570.8 1103.0,571.9 1104.7,573.0 1106.3,574.1 1108.0,575.2 1109.6,576.4 1111.2,577.6 1112.8,578.8 1114.3,580.1 1115.8,581.3 1117.4,582.6 1118.9,583.9 1120.3,585.3 1121.8,586.6 1123.2,588.0 1124.7,589.4 1126.1,590.8 1127.4,592.3 1128.8,593.7 1130.1,595.2 1131.5,596.7 1132.8,598.2 1134.1,599.7 1135.4,601.2 1136.7,602.8 1137.9,604.3 1139.2,605.8 1140.5,607.4 1141.8,608.9 1143.0,610.5 1144.3,612.0 1145.6,613.5 1146.9,615.1 1148.2,616.6 1149.5,618.1 1150.8,619.6 1152.2,621.0 1153.5,622.5 1154.9,624.0 1156.3,625.4 1157.7,626.8 1159.1,628.2 1160.5,629.6 1162.0,631.0 1163.4,632.4 1164.9,633.7 1166.4,635.1 1167.9,636.4 1169.4,637.7 1170.9,638.9 1172.5,640.2 1174.1,641.4 1175.7,642.6 1177.3,643.8 1178.9,644.9 1180.6,646.0 1182.2,647.1 1183.9,648.1 1185.6,649.2 1187.4,650.1 1189.1,651.1 1190.9,652.0 1192.7,652.8 1194.5,653.7 1196.3,654.4 1198.1,655.2 1200.0,655.9 1201.9,656.5 1203.7,657.1 1205.6,657.7 1207.5,658.3 1209.4,658.8 1211.3,659.4 1213.2,659.9 1215.1,660.4 1216.9,661.0 1218.8,661.7 1220.6,662.3 1222.4,663.1 1224.1,663.9 1225.8,664.8 1227.5,665.8 1229.1,666.8 1230.7,668.0 1232.2,669.1 1233.7,670.4 1235.1,671.7 1236.6,673.1 1237.9,674.5 1239.3,675.9 1240.6,677.4 1241.8,679.0 1243.1,680.5 1244.3,682.1 1245.5,683.7 1246.6,685.3 1247.7,687.0 1248.8,688.6 1249.9,690.3 1250.9,692.0 1251.9,693.8 1252.9,695.5 1253.8,697.3 1254.7,699.0 1255.6,700.8 1256.5,702.6 1257.4,704.4 1258.3,706.2 1259.1,708.0 1259.9,709.8 1260.7,711.7 1261.5,713.5 1262.3,715.3 1263.0,717.2 1263.7,719.0 1264.4,720.9 1265.1,722.8 1265.8,724.7 1266.5,726.6 1267.1,728.4 1267.7,730.3 1268.3,732.3 1268.8,734.2 1269.4,736.1 1269.9,738.0 1270.4,739.9 1270.9,741.9 1271.4,743.8 1271.9,745.7 1272.4,747.7 1272.9,749.6 1273.4,751.6 1273.9,753.5 1274.4,755.4 1275.0,757.3 1275.5,759.3 1276.1,761.2 1276.7,763.1 1277.3,765.0 1277.9,766.9 1278.5,768.8 1279.2,770.7 1279.8,772.6 1280.5,774.4 1281.2,776.3 1281.9,778.2 1282.7,780.0 1283.5,781.8 1284.3,783.6 1285.1,785.4 1286.0,787.2 1287.0,788.9 1287.9,790.6 1288.9,792.3 1290.0,793.9 1291.1,795.4 1292.2,796.9 1293.3,798.3 1294.4,799.6 1295.5,800.9 1296.6,802.0 1297.6,803.1 1298.5,804.0 1299.4,804.9 1303.6,808.7 1311.2,836.7 1318.9,849.5 1331.6,829.0 1343.1,824.0 1349.5,836.7 1357.1,875.5 1364.8,918.9 1375.0,926.5 1382.7,941.8 1392.9,936.7 1403.1,947.0" fill="none" stroke="#f00" stroke-width="7" stroke-linejoin="round" stroke-linecap="butt" />
<polygon points="1400.0,938.0 1403.0,940.2 1406.0,946.5 1409.0,949.2 1412.0,949.0 1415.0,953.7 1418.0,961.0 1421.0,970.9 1424.0,975.6 1427.0,986.7 1430.0,989.5 1433.0,994.0 1436.0,994.4 1439.0,990.0 1442.0,992.7 1445.0,993.0 1448.0,998.2 1451.0,999.0 1454.0,996.7 1457.0,1003.3 1460.0,1001.9 1463.0,1004.6 1466.0,1016.4 1469.0,1021.0 1472.0,1027.5 1475.0,1031.0 1478.0,1035.0 1481.0,1032.4 1484.0,1032.2 1487.0,1033.5 1490.0,1041.4 1493.0,1044.4 1496.0,1045.1 1499.0,1047.1 1502.0,1053.7 1505.0,1055.3 1508.0,1056.5 1511.0,1065.7 1514.0,1069.1 1517.0,1066.5 1520.0,1064.5 1523.0,1066.5 1526.0,1066.5 1529.0,1066.6 1532.0,1068.3 1535.0,1065.4 1538.0,1068.7 1541.0,1071.0 1544.0,1067.8 1547.0,1069.7 1550.0,1075.7 1553.0,1070.6 1556.0,1072.3 1559.0,1076.3 1562.0,1071.9 1565.0,1074.6 1568.0,1079.0 1571.0,1075.2 1574.0,1076.3 1577.0,1077.8 1580.0,1077.4 1583.0,1073.3 1586.0,1071.9 1589.0,1074.8 1592.0,1079.1 1595.0,1083.4 1598.0,1083.9 1601.0,1087.9 1604.0,1090.7 1607.0,1098.8 1610.0,1099.3 1613.0,1103.5 1616.0,1110.8 1619.0,1109.2 1622.0,1107.7 1625.0,1111.2 1628.0,1116.6 1631.0,1111.7 1634.0,1117.2 1637.0,1118.2 1640.0,1117.5 1643.0,1119.7 1646.0,1114.3 1649.0,1113.1 1652.0,1115.5 1655.0,1113.3 1658.0,1116.7 1661.0,1118.9 1664.0,1121.8 1667.0,1120.2 1670.0,1124.4 1673.0,1124.9 1676.0,1129.9 1679.0,1138.6 1682.0,1140.0 1685.0,1140.8 1688.0,1135.6 1691.0,1136.2 1694.0,1140.3 1697.0,1142.7 1700.0,1143.2 1703.0,1140.6 1706.0,1149.1 1709.0,1149.8 1712.0,1147.2 1715.0,1150.4 1718.0,1157.5 1721.0,1154.3 1724.0,1157.1 1727.0,1152.6 1730.0,1159.1 1733.0,1153.3 1736.0,1160.2 1739.0,1155.5 1742.0,1154.0 1745.0,1160.9 1748.0,1157.6 1751.0,1157.1 1754.0,1160.5 1757.0,1156.1 1760.0,1156.3 1763.0,1156.8 1766.0,1156.0 1769.0,1158.1 1772.0,1160.3 1775.0,1159.3 1778.0,1160.0 1781.0,1160.2 1784.0,1159.5 1787.0,1156.0 1790.0,1157.4 1793.0,1161.8 1796.0,1158.6 1799.0,1160.4 1802.0,1156.8 1805.0,1158.0 1808.0,1162.2 1811.0,1160.5 1814.0,1163.8 1817.0,1162.2 1820.0,1162.1 1823.0,1162.8 1826.0,1164.1 1829.0,1167.1 1832.0,1170.2 1835.0,1166.3 1838.0,1166.8 1841.0,1159.3 1844.0,1157.2 1847.0,1154.8 1850.0,1157.9 1853.0,1150.2 1856.0,1153.8 1859.0,1155.0 1862.0,1149.2 1865.0,1150.1 1868.0,1154.3 1871.0,1147.0 1874.0,1149.1 1877.0,1145.8 1880.0,1149.3 1883.0,1147.2 1886.0,1142.1 1889.0,1146.2 1892.0,1140.6 1895.0,1145.0 1898.0,1138.1 1901.0,1136.2 1904.0,1136.6 1907.0,1133.6 1910.0,1131.2 1913.0,1120.3 1916.0,1118.0 1919.0,1108.6 1922.0,1102.2 1925.0,1083.2 1928.0,1073.7 1931.0,1055.3 1934.0,1041.2 1937.0,1031.6 1940.0,1020.4 1943.0,1006.1 1945.0,1000.0 1945.0,1150.0 1943.0,1147.0 1940.0,1153.4 1937.0,1148.7 1934.0,1154.2 1931.0,1158.2 1928.0,1161.7 1925.0,1166.8 1922.0,1166.7 1919.0,1167.0 1916.0,1173.7 1913.0,1177.1 1910.0,1173.4 1907.0,1180.2 1904.0,1175.3 1901.0,1181.3 1898.0,1178.0 1895.0,1184.4 1892.0,1185.3 1889.0,1182.3 1886.0,1181.5 1883.0,1182.9 1880.0,1180.2 1877.0,1183.1 1874.0,1183.9 1871.0,1185.3 1868.0,1189.1 1865.0,1187.1 1862.0,1191.5 1859.0,1192.3 1856.0,1186.4 1853.0,1191.7 1850.0,1195.1 1847.0,1195.1 1844.0,1193.3 1841.0,1196.2 1838.0,1195.0 1835.0,1202.7 1832.0,1198.6 1829.0,1205.2 1826.0,1207.3 1823.0,1205.7 1820.0,1208.5 1817.0,1206.3 1814.0,1205.0 1811.0,1206.8 1808.0,1204.0 1805.0,1201.3 1802.0,1202.8 1799.0,1203.7 1796.0,1200.8 1793.0,1200.3 1790.0,1198.8 1787.0,1201.2 1784.0,1196.0 1781.0,1194.5 1778.0,1198.4 1775.0,1201.2 1772.0,1200.8 1769.0,1197.0 1766.0,1200.3 1763.0,1196.1 1760.0,1197.1 1757.0,1194.4 1754.0,1193.5 1751.0,1198.6 1748.0,1198.9 1745.0,1196.4 1742.0,1191.0 1739.0,1195.0 1736.0,1195.6 1733.0,1196.7 1730.0,1196.3 1727.0,1190.8 1724.0,1190.7 1721.0,1196.7 1718.0,1191.0 1715.0,1192.6 1712.0,1190.8 1709.0,1186.6 1706.0,1187.3 1703.0,1184.7 1700.0,1184.1 1697.0,1179.8 1694.0,1181.6 1691.0,1174.5 1688.0,1173.1 1685.0,1172.6 1682.0,1176.0 1679.0,1169.8 1676.0,1169.5 1673.0,1163.9 1670.0,1159.6 1667.0,1161.2 1664.0,1160.7 1661.0,1159.0 1658.0,1158.2 1655.0,1150.2 1652.0,1152.7 1649.0,1150.7 1646.0,1145.5 1643.0,1146.1 1640.0,1146.4 1637.0,1136.9 1634.0,1135.7 1631.0,1139.9 1628.0,1131.3 1625.0,1129.9 1622.0,1126.3 1619.0,1127.1 1616.0,1128.9 1613.0,1120.1 1610.0,1120.0 1607.0,1116.6 1604.0,1120.5 1601.0,1114.5 1598.0,1110.9 1595.0,1108.1 1592.0,1107.0 1589.0,1104.2 1586.0,1106.7 1583.0,1103.5 1580.0,1105.6 1577.0,1104.4 1574.0,1097.5 1571.0,1100.9 1568.0,1100.4 1565.0,1098.3 1562.0,1096.1 1559.0,1094.1 1556.0,1095.9 1553.0,1093.9 1550.0,1093.2 1547.0,1099.1 1544.0,1095.3 1541.0,1098.9 1538.0,1098.9 1535.0,1095.2 1532.0,1098.4 1529.0,1093.2 1526.0,1097.1 1523.0,1091.3 1520.0,1093.4 1517.0,1094.4 1514.0,1090.7 1511.0,1095.7 1508.0,1092.5 1505.0,1091.3 1502.0,1092.7 1499.0,1087.9 1496.0,1088.2 1493.0,1085.1 1490.0,1086.3 1487.0,1086.2 1484.0,1083.9 1481.0,1084.8 1478.0,1078.4 1475.0,1078.4 1472.0,1081.9 1469.0,1075.2 1466.0,1065.9 1463.0,1052.4 1460.0,1051.7 1457.0,1047.4 1454.0,1042.6 1451.0,1038.5 1448.0,1038.0 1445.0,1037.2 1442.0,1037.5 1439.0,1030.4 1436.0,1030.3 1433.0,1026.9 1430.0,1028.2 1427.0,1030.2 1424.0,1020.1 1421.0,1020.6 1418.0,1010.4 1415.0,1008.9 1412.0,1001.2 1409.0,989.8 1406.0,977.2 1403.0,967.5 1400.0,960.0" fill="#f00" stroke="#f00" stroke-width="3"/>
<polyline points="1942.0,1150.0 1948.0,900.0 1951.0,700.0 1955.0,665.0 1963.0,656.0 1966.0,660.0 1968.0,722.0 1970.0,900.0 1972.0,1010.0" fill="none" stroke="#f00" stroke-width="7" stroke-linejoin="round" stroke-linecap="butt" />
<polygon points="1951,700 1955,665 1963,656 1966,660 1968,722 1967.5,760 1961,795 1953,760" fill="#f00"/>
<polygon points="1972.0,1000.0 1975.0,1009.6 1978.0,1015.6 1981.0,1023.4 1984.0,1031.5 1987.0,1041.1 1990.0,1045.0 1993.0,1050.2 1996.0,1055.9 1999.0,1066.9 2002.0,1070.0 2005.0,1083.5 2008.0,1086.6 2011.0,1088.0 2014.0,1091.1 2017.0,1097.5 2020.0,1098.7 2023.0,1093.7 2026.0,1083.2 2029.0,1072.4 2032.0,1064.6 2035.0,1058.0 2038.0,1052.9 2041.0,1055.5 2044.0,1056.8 2047.0,1082.6 2050.0,1107.3 2053.0,1112.4 2056.0,1122.4 2059.0,1119.5 2062.0,1122.3 2065.0,1122.2 2068.0,1128.3 2071.0,1122.6 2074.0,1106.0 2077.0,1091.7 2080.0,1076.3 2083.0,1063.4 2086.0,1075.3 2089.0,1086.3 2092.0,1095.7 2095.0,1102.7 2098.0,1114.8 2101.0,1115.6 2104.0,1113.0 2107.0,1122.7 2110.0,1124.3 2113.0,1122.4 2116.0,1128.1 2119.0,1130.7 2122.0,1123.8 2125.0,1119.5 2128.0,1110.7 2131.0,1104.8 2134.0,1099.4 2137.0,1097.9 2140.0,1096.0 2143.0,1097.9 2146.0,1103.4 2149.0,1099.5 2152.0,1090.3 2155.0,1080.4 2158.0,1086.6 2161.0,1114.3 2164.0,1164.4 2166.0,1205.0 2166.0,1215.0 2164.0,1211.3 2161.0,1195.6 2158.0,1190.1 2155.0,1184.8 2152.0,1179.5 2149.0,1179.5 2146.0,1179.3 2143.0,1172.4 2140.0,1176.8 2137.0,1177.0 2134.0,1180.1 2131.0,1177.7 2128.0,1176.5 2125.0,1183.2 2122.0,1186.2 2119.0,1187.1 2116.0,1188.8 2113.0,1188.0 2110.0,1192.1 2107.0,1192.3 2104.0,1195.7 2101.0,1195.9 2098.0,1193.6 2095.0,1194.6 2092.0,1197.5 2089.0,1194.3 2086.0,1191.7 2083.0,1187.9 2080.0,1185.0 2077.0,1186.9 2074.0,1184.7 2071.0,1185.4 2068.0,1185.0 2065.0,1184.1 2062.0,1183.9 2059.0,1188.7 2056.0,1183.5 2053.0,1181.3 2050.0,1171.6 2047.0,1168.7 2044.0,1163.9 2041.0,1160.1 2038.0,1152.1 2035.0,1137.3 2032.0,1140.9 2029.0,1135.0 2026.0,1135.8 2023.0,1137.1 2020.0,1137.7 2017.0,1137.9 2014.0,1133.1 2011.0,1134.7 2008.0,1130.5 2005.0,1126.9 2002.0,1134.7 1999.0,1140.2 1996.0,1137.3 1993.0,1131.7 1990.0,1127.4 1987.0,1110.3 1984.0,1092.4 1981.0,1073.6 1978.0,1059.8 1975.0,1049.2 1972.0,1040.0" fill="#f00" stroke="#f00" stroke-width="3"/>
<line x1="1535.7" y1="966.0" x2="1535.7" y2="1090.0" stroke="#f00" stroke-width="7"/><line x1="1769.6" y1="868.0" x2="1769.6" y2="1160.0" stroke="#f00" stroke-width="7"/><line x1="1846.4" y1="928.0" x2="1846.4" y2="1160.0" stroke="#f00" stroke-width="7"/><line x1="1900.7" y1="939.0" x2="1900.7" y2="1140.0" stroke="#f00" stroke-width="7"/><line x1="1930.4" y1="937.0" x2="1930.4" y2="1100.0" stroke="#f00" stroke-width="7"/><line x1="2043.2" y1="1050.0" x2="2043.2" y2="1160.0" stroke="#f00" stroke-width="7"/><line x1="2083.0" y1="1061.0" x2="2083.0" y2="1180.0" stroke="#f00" stroke-width="7"/><line x1="2156.0" y1="1074.0" x2="2156.0" y2="1180.0" stroke="#f00" stroke-width="7"/>
<polyline points="267.0,270.5 272.4,270.6 273.6,270.6 275.0,270.6 276.5,270.6 278.0,270.6 279.7,270.7 281.5,270.7 283.3,270.7 285.2,270.7 287.1,270.8 289.1,270.8 291.0,270.8 293.0,270.8 295.0,270.8 297.0,270.9 299.0,270.9 301.0,270.9 303.0,270.9 305.0,271.0 307.0,271.0 309.0,271.0 311.0,271.0 313.0,271.1 315.0,271.1 317.0,271.1 319.0,271.1 321.0,271.2 323.0,271.2 325.0,271.2 327.0,271.2 329.0,271.3 331.0,271.3 333.0,271.3 335.0,271.3 337.0,271.4 339.0,271.4 341.0,271.4 343.0,271.4 345.0,271.4 347.0,271.5 349.0,271.5 351.0,271.5 353.0,271.5 355.0,271.6 357.0,271.6 359.0,271.6 361.0,271.6 363.0,271.7 365.0,271.7 367.0,271.7 369.0,271.7 371.0,271.8 373.0,271.8 375.0,271.8 377.0,271.8 379.0,271.8 381.0,271.9 383.0,271.9 385.0,271.9 387.0,271.9 389.0,272.0 391.0,272.0 393.0,272.0 395.0,272.0 397.0,272.1 399.0,272.1 401.0,272.1 403.0,272.1 405.0,272.2 407.0,272.2 409.0,272.2 411.0,272.2 413.0,272.3 415.0,272.3 417.0,272.3 419.0,272.3 421.0,272.4 423.0,272.4 425.0,272.4 427.0,272.4 429.0,272.5 431.0,272.5 433.0,272.5 435.0,272.5 437.0,272.6 439.0,272.6 441.0,272.6 443.0,272.6 445.0,272.7 447.0,272.7 449.0,272.7 451.0,272.7 453.0,272.8 455.0,272.8 457.0,272.8 459.0,272.8 461.0,272.9 463.0,272.9 465.0,272.9 467.0,272.9 469.0,273.0 471.0,273.0 473.0,273.0 475.0,273.0 477.0,273.1 479.0,273.1 481.0,273.1 483.0,273.2 485.0,273.2 487.0,273.2 489.0,273.2 491.0,273.3 493.0,273.3 495.0,273.3 497.0,273.3 499.0,273.4 501.0,273.4 503.0,273.4 505.0,273.4 507.0,273.5 509.0,273.5 511.0,273.5 513.0,273.6 515.0,273.6 517.0,273.6 519.0,273.6 521.0,273.7 523.0,273.7 525.0,273.7 527.0,273.8 529.0,273.8 531.0,273.8 533.0,273.8 535.0,273.9 537.0,273.9 539.0,273.9 541.0,274.0 543.0,274.0 545.0,274.0 547.0,274.1 549.0,274.1 551.0,274.1 553.0,274.2 555.0,274.2 557.0,274.2 559.0,274.3 561.0,274.3 563.0,274.3 565.0,274.4 567.0,274.4 569.0,274.4 571.0,274.5 573.0,274.5 575.0,274.5 577.0,274.6 579.0,274.6 581.0,274.6 583.0,274.7 585.0,274.7 587.0,274.8 589.0,274.8 591.0,274.8 593.0,274.9 595.0,274.9 597.0,275.0 599.0,275.0 601.0,275.0 603.0,275.1 605.0,275.1 607.0,275.2 609.0,275.2 611.0,275.3 613.0,275.3 615.0,275.4 617.0,275.4 619.0,275.5 621.0,275.5 623.0,275.6 625.0,275.6 627.0,275.7 629.0,275.7 631.0,275.8 633.0,275.9 635.0,275.9 637.0,276.0 639.0,276.1 641.0,276.1 643.0,276.2 644.9,276.3 646.9,276.4 648.9,276.4 650.9,276.5 652.9,276.6 654.9,276.7 656.9,276.8 658.9,276.9 660.9,277.1 662.9,277.2 664.9,277.3 666.9,277.4 668.9,277.6 670.9,277.7 672.9,277.9 674.9,278.1 676.9,278.2 678.9,278.4 680.9,278.6 682.9,278.8 684.8,279.0 686.8,279.1 688.8,279.3 690.8,279.5 692.8,279.7 694.8,280.0 696.8,280.2 698.8,280.4 700.8,280.6 702.7,280.8 704.7,281.1 706.7,281.3 708.7,281.5 710.7,281.8 712.7,282.0 714.7,282.3 716.6,282.6 718.6,282.9 720.6,283.1 722.6,283.4 724.5,283.7 726.5,284.1 728.5,284.4 730.5,284.7 732.4,285.0 734.4,285.4 736.4,285.7 738.4,286.0 740.3,286.4 742.3,286.7 744.3,287.1 746.2,287.5 748.2,287.8 750.2,288.2 752.1,288.5 754.1,288.9 756.1,289.3 758.0,289.6 760.0,290.0 762.0,290.4 763.9,290.8 765.9,291.1 767.9,291.5 769.8,291.9 771.8,292.3 773.7,292.7 775.7,293.1 777.7,293.5 779.6,293.9 781.6,294.3 783.5,294.8 785.5,295.2 787.4,295.6 789.4,296.1 791.3,296.6 793.2,297.1 795.2,297.5 797.1,298.0 799.0,298.6 801.0,299.1 802.9,299.6 804.8,300.2 806.7,300.7 808.7,301.3 810.6,301.9 812.5,302.5 814.4,303.1 816.3,303.7 818.2,304.3 820.1,304.9 822.0,305.6 823.9,306.2 825.7,306.9 827.6,307.6 829.5,308.3 831.4,309.0 833.2,309.7 835.1,310.4 837.0,311.2 838.8,311.9 840.7,312.7 842.5,313.5 844.3,314.3 846.2,315.1 848.0,315.9 849.8,316.7 851.6,317.6 853.4,318.4 855.2,319.3 857.0,320.2 858.8,321.1 860.5,322.0 862.3,323.0 864.0,323.9 865.8,324.9 867.5,325.9 869.2,326.9 870.9,328.0 872.6,329.0 874.3,330.1 876.0,331.2 877.6,332.3 879.3,333.4 880.9,334.6 882.6,335.7 884.2,336.9 885.8,338.1 887.4,339.3 888.9,340.5 890.5,341.8 892.1,343.0 893.6,344.3 895.2,345.6 896.7,346.9 898.2,348.2 899.7,349.5 901.2,350.8 902.7,352.1 904.2,353.5 905.6,354.9 907.1,356.2 908.5,357.6 910.0,359.0 911.4,360.4 912.8,361.8 914.2,363.2 915.6,364.7 917.0,366.1 918.4,367.5 919.7,369.0 921.1,370.5 922.5,371.9 923.8,373.4 925.1,374.9 926.5,376.4 927.8,377.9 929.1,379.4 930.4,380.9 931.7,382.4 933.0,383.9 934.3,385.5 935.6,387.0 936.9,388.5 938.1,390.1 939.4,391.6 940.6,393.2 941.9,394.8 943.1,396.4 944.3,397.9 945.5,399.5 946.7,401.1 947.9,402.8 949.0,404.4 950.1,406.0 951.3,407.7 952.4,409.4 953.5,411.0 954.5,412.7 955.6,414.4 956.6,416.1 957.6,417.8 958.6,419.6 959.6,421.3 960.6,423.0 961.6,424.8 962.5,426.5 963.5,428.3 964.4,430.1 965.3,431.8 966.3,433.6 967.2,435.4 968.1,437.2 969.0,439.0 969.9,440.7 970.8,442.5 971.7,444.3 972.6,446.1 973.4,447.9 974.3,449.7 975.2,451.5 976.1,453.3 977.0,455.1 977.9,456.9 978.8,458.7 979.7,460.4 980.6,462.2 981.5,464.0 982.4,465.8 983.3,467.6 984.2,469.4 985.1,471.1 986.0,472.9 987.0,474.7 987.9,476.5 988.8,478.2 989.7,480.0 990.7,481.8 991.6,483.5 992.6,485.3 993.5,487.1 994.5,488.8 995.4,490.6 996.4,492.3 997.4,494.1 998.4,495.8 999.4,497.5 1000.4,499.2 1001.4,501.0 1002.5,502.7 1003.5,504.4 1004.6,506.1 1005.7,507.7 1006.7,509.4 1007.8,511.1 1009.0,512.7 1010.1,514.4 1011.2,516.0 1012.4,517.7 1013.5,519.3 1014.7,520.9 1015.9,522.5 1017.0,524.2 1018.3,525.8 1019.5,527.3 1020.7,528.9 1021.9,530.5 1023.2,532.0 1024.5,533.6 1025.8,535.1 1027.1,536.6 1028.4,538.1 1029.8,539.5 1031.1,541.0 1032.5,542.4 1033.9,543.8 1035.4,545.2 1036.8,546.6 1038.3,547.9 1039.8,549.2 1041.3,550.5 1042.8,551.9 1044.3,553.1 1045.9,554.4 1047.4,555.7 1048.9,557.0 1050.5,558.2 1052.1,559.5 1053.6,560.7 1055.2,562.0 1056.7,563.2 1058.3,564.5 1059.9,565.7 1061.4,566.9 1063.0,568.2 1064.6,569.4 1066.1,570.7 1067.7,571.9 1069.3,573.2 1070.8,574.5 1072.4,575.7 1073.9,577.0 1075.4,578.3 1077.0,579.5 1078.5,580.8 1080.0,582.1 1081.5,583.4 1083.1,584.7 1084.6,586.1 1086.1,587.4 1087.6,588.7 1089.1,590.0 1090.5,591.4 1092.0,592.7 1093.5,594.1 1095.0,595.4 1096.4,596.8 1097.9,598.2 1099.3,599.5 1100.7,600.9 1102.2,602.3 1103.6,603.8 1105.0,605.2 1106.4,606.6 1107.7,608.1 1109.1,609.5 1110.5,611.0 1111.8,612.5 1113.1,614.0 1114.5,615.5 1115.8,617.0 1117.1,618.5 1118.4,620.0 1119.7,621.5 1121.0,623.0 1122.3,624.6 1123.6,626.1 1124.9,627.6 1126.2,629.1 1127.5,630.7 1128.8,632.2 1130.1,633.7 1131.4,635.2 1132.7,636.7 1134.0,638.2 1135.4,639.7 1136.7,641.1 1138.1,642.6 1139.4,644.1 1140.8,645.5 1142.2,646.9 1143.6,648.4 1145.0,649.8 1146.5,651.2 1147.9,652.5 1149.4,653.9 1150.8,655.3 1152.3,656.6 1153.8,658.0 1155.2,659.4 1156.7,660.7 1158.2,662.0 1159.7,663.4 1161.2,664.7 1162.6,666.1 1164.1,667.4 1165.6,668.8 1167.0,670.1 1168.5,671.5 1169.9,672.9 1171.4,674.3 1172.8,675.7 1174.2,677.1 1175.6,678.5 1177.0,679.9 1178.4,681.4 1179.8,682.8 1181.2,684.2 1182.5,685.7 1183.9,687.1 1185.2,688.6 1186.5,690.0 1187.7,691.4 1189.0,692.7 1190.1,694.0 1191.3,695.3 1192.3,696.5 1193.3,697.6 1194.2,698.6 1195.0,699.5 1199.0,704.0 1211.7,719.4 1229.6,724.5 1250.0,738.5 1262.8,739.8 1275.5,757.7 1293.4,775.5 1308.7,780.6 1326.5,793.4 1347.0,803.6 1357.1,826.5 1364.8,836.7 1372.4,862.2 1382.7,867.3 1390.3,862.2 1403.1,872.4 1408.2,898.5 1423.5,883.2 1431.1,901.0 1438.8,939.3" fill="none" stroke="#0f0" stroke-width="7" stroke-linejoin="round" stroke-linecap="butt" />
<polygon points="1425.0,893.0 1428.0,900.4 1431.0,907.7 1434.0,917.4 1437.0,923.8 1440.0,927.2 1443.0,938.5 1446.0,941.8 1449.0,942.5 1452.0,952.1 1455.0,956.8 1458.0,960.3 1461.0,964.6 1464.0,972.2 1467.0,976.1 1470.0,971.6 1473.0,981.3 1476.0,981.5 1479.0,982.1 1482.0,984.3 1485.0,985.8 1488.0,994.5 1491.0,995.6 1494.0,998.2 1497.0,995.1 1500.0,1001.2 1503.0,1002.4 1506.0,1010.9 1509.0,1013.5 1512.0,1019.9 1515.0,1022.3 1518.0,1034.0 1521.0,1038.8 1524.0,1042.2 1527.0,1041.5 1530.0,1050.1 1533.0,1048.5 1536.0,1051.5 1539.0,1054.1 1542.0,1059.6 1545.0,1063.3 1548.0,1069.1 1551.0,1071.0 1554.0,1078.1 1557.0,1079.0 1560.0,1083.3 1563.0,1083.4 1566.0,1085.3 1569.0,1087.3 1572.0,1085.4 1575.0,1092.3 1578.0,1090.5 1581.0,1091.0 1584.0,1098.2 1587.0,1097.6 1590.0,1098.8 1593.0,1097.7 1596.0,1100.0 1599.0,1104.3 1602.0,1109.6 1605.0,1107.9 1608.0,1107.9 1611.0,1111.1 1614.0,1112.2 1617.0,1116.1 1620.0,1118.4 1623.0,1116.5 1626.0,1117.1 1629.0,1115.4 1632.0,1123.5 1635.0,1123.6 1638.0,1131.7 1641.0,1132.3 1644.0,1138.6 1647.0,1148.3 1650.0,1153.0 1653.0,1147.8 1656.0,1156.3 1659.0,1155.4 1662.0,1155.4 1665.0,1160.5 1668.0,1163.2 1671.0,1157.9 1674.0,1162.8 1677.0,1167.7 1680.0,1166.9 1683.0,1167.0 1686.0,1165.2 1689.0,1168.3 1692.0,1174.3 1695.0,1173.2 1698.0,1180.4 1701.0,1179.4 1704.0,1185.8 1707.0,1187.8 1710.0,1192.7 1713.0,1193.4 1716.0,1200.0 1719.0,1200.7 1722.0,1196.8 1725.0,1203.9 1728.0,1200.0 1731.0,1202.8 1734.0,1203.5 1737.0,1206.8 1740.0,1204.6 1743.0,1206.8 1746.0,1210.8 1749.0,1213.1 1752.0,1212.0 1755.0,1217.7 1758.0,1218.5 1761.0,1215.7 1764.0,1218.2 1767.0,1221.8 1770.0,1221.6 1773.0,1227.1 1776.0,1224.9 1779.0,1227.4 1782.0,1228.8 1785.0,1230.0 1788.0,1238.4 1791.0,1238.8 1794.0,1242.0 1797.0,1237.7 1800.0,1243.9 1803.0,1244.9 1806.0,1244.2 1809.0,1244.2 1812.0,1246.5 1815.0,1252.6 1818.0,1253.5 1821.0,1249.4 1824.0,1253.8 1827.0,1248.4 1830.0,1251.7 1833.0,1251.0 1836.0,1257.2 1839.0,1253.3 1842.0,1256.1 1845.0,1250.3 1848.0,1257.4 1851.0,1256.0 1854.0,1252.7 1857.0,1257.1 1860.0,1250.7 1863.0,1250.2 1866.0,1246.9 1869.0,1253.3 1872.0,1252.7 1875.0,1246.2 1878.0,1244.8 1881.0,1229.9 1884.0,1220.0 1887.0,1213.7 1890.0,1202.4 1893.0,1190.6 1896.0,1176.9 1899.0,1162.6 1902.0,1161.9 1905.0,1156.6 1908.0,1156.4 1911.0,1154.1 1914.0,1155.8 1917.0,1159.0 1920.0,1152.5 1923.0,1149.7 1926.0,1153.0 1929.0,1147.7 1932.0,1149.2 1935.0,1148.7 1938.0,1146.5 1941.0,1146.4 1944.0,1142.6 1947.0,1142.4 1950.0,1137.0 1953.0,1136.2 1956.0,1139.6 1959.0,1138.2 1962.0,1139.1 1965.0,1141.5 1968.0,1142.9 1971.0,1138.8 1974.0,1141.7 1977.0,1135.3 1980.0,1136.0 1983.0,1142.8 1986.0,1140.3 1989.0,1133.3 1992.0,1121.9 1995.0,1120.9 1998.0,1111.6 2001.0,1102.1 2004.0,1098.0 2007.0,1101.4 2010.0,1107.0 2013.0,1104.4 2016.0,1109.2 2019.0,1099.6 2022.0,1096.8 2025.0,1091.4 2028.0,1108.5 2031.0,1125.0 2034.0,1135.8 2037.0,1152.3 2040.0,1156.2 2043.0,1161.0 2046.0,1166.1 2049.0,1174.9 2052.0,1171.7 2055.0,1175.4 2058.0,1170.4 2061.0,1174.6 2064.0,1175.2 2067.0,1180.4 2070.0,1181.6 2073.0,1191.4 2076.0,1191.7 2079.0,1194.8 2082.0,1193.7 2085.0,1197.5 2088.0,1195.0 2091.0,1201.4 2094.0,1197.3 2097.0,1202.5 2100.0,1197.2 2103.0,1199.2 2106.0,1197.4 2109.0,1195.2 2112.0,1193.3 2115.0,1187.3 2118.0,1185.0 2121.0,1174.4 2124.0,1171.1 2127.0,1162.2 2130.0,1161.3 2133.0,1150.1 2136.0,1153.8 2139.0,1159.8 2142.0,1163.1 2145.0,1168.7 2148.0,1172.3 2151.0,1177.6 2154.0,1182.9 2157.0,1184.5 2160.0,1196.6 2163.0,1208.8 2164.0,1210.0 2164.0,1287.0 2163.0,1282.2 2160.0,1256.9 2157.0,1241.8 2154.0,1227.8 2151.0,1221.3 2148.0,1220.7 2145.0,1218.4 2142.0,1220.4 2139.0,1216.9 2136.0,1216.3 2133.0,1221.7 2130.0,1226.3 2127.0,1222.9 2124.0,1225.9 2121.0,1227.9 2118.0,1228.0 2115.0,1235.2 2112.0,1232.1 2109.0,1233.7 2106.0,1239.4 2103.0,1239.6 2100.0,1239.0 2097.0,1248.4 2094.0,1243.4 2091.0,1251.4 2088.0,1248.9 2085.0,1253.6 2082.0,1249.7 2079.0,1252.8 2076.0,1255.0 2073.0,1259.8 2070.0,1259.4 2067.0,1258.8 2064.0,1267.1 2061.0,1266.8 2058.0,1267.6 2055.0,1262.2 2052.0,1262.4 2049.0,1269.0 2046.0,1264.6 2043.0,1266.0 2040.0,1269.4 2037.0,1264.3 2034.0,1264.8 2031.0,1257.2 2028.0,1258.1 2025.0,1251.7 2022.0,1257.5 2019.0,1259.4 2016.0,1263.9 2013.0,1270.3 2010.0,1274.8 2007.0,1283.5 2004.0,1285.8 2001.0,1290.5 1998.0,1294.8 1995.0,1293.1 1992.0,1300.8 1989.0,1300.5 1986.0,1302.2 1983.0,1305.1 1980.0,1302.5 1977.0,1303.9 1974.0,1309.5 1971.0,1309.4 1968.0,1304.2 1965.0,1309.2 1962.0,1306.5 1959.0,1313.1 1956.0,1308.4 1953.0,1313.5 1950.0,1309.0 1947.0,1308.6 1944.0,1310.0 1941.0,1309.4 1938.0,1308.0 1935.0,1313.8 1932.0,1312.4 1929.0,1310.3 1926.0,1310.6 1923.0,1311.0 1920.0,1307.7 1917.0,1314.9 1914.0,1314.9 1911.0,1311.7 1908.0,1308.0 1905.0,1313.7 1902.0,1308.5 1899.0,1311.2 1896.0,1311.8 1893.0,1316.3 1890.0,1316.9 1887.0,1313.1 1884.0,1316.2 1881.0,1314.9 1878.0,1321.2 1875.0,1317.7 1872.0,1313.6 1869.0,1318.1 1866.0,1318.6 1863.0,1314.3 1860.0,1317.4 1857.0,1316.2 1854.0,1314.2 1851.0,1322.4 1848.0,1320.4 1845.0,1322.0 1842.0,1325.0 1839.0,1334.3 1836.0,1331.2 1833.0,1333.2 1830.0,1335.2 1827.0,1329.1 1824.0,1326.3 1821.0,1326.9 1818.0,1319.5 1815.0,1316.3 1812.0,1315.6 1809.0,1310.5 1806.0,1310.9 1803.0,1309.1 1800.0,1304.1 1797.0,1309.1 1794.0,1302.0 1791.0,1305.2 1788.0,1302.0 1785.0,1295.9 1782.0,1291.5 1779.0,1297.6 1776.0,1291.6 1773.0,1294.8 1770.0,1289.2 1767.0,1286.1 1764.0,1290.9 1761.0,1288.0 1758.0,1282.5 1755.0,1281.8 1752.0,1279.6 1749.0,1282.7 1746.0,1277.1 1743.0,1277.7 1740.0,1273.3 1737.0,1279.2 1734.0,1272.7 1731.0,1274.8 1728.0,1268.3 1725.0,1272.6 1722.0,1267.7 1719.0,1268.3 1716.0,1268.4 1713.0,1265.7 1710.0,1261.3 1707.0,1262.2 1704.0,1264.3 1701.0,1259.4 1698.0,1263.7 1695.0,1259.3 1692.0,1259.0 1689.0,1262.7 1686.0,1259.5 1683.0,1255.5 1680.0,1255.1 1677.0,1252.7 1674.0,1250.3 1671.0,1243.9 1668.0,1242.6 1665.0,1245.3 1662.0,1243.8 1659.0,1234.3 1656.0,1236.0 1653.0,1235.8 1650.0,1228.2 1647.0,1232.7 1644.0,1227.3 1641.0,1223.6 1638.0,1221.3 1635.0,1222.4 1632.0,1216.5 1629.0,1216.0 1626.0,1214.8 1623.0,1214.6 1620.0,1212.1 1617.0,1214.2 1614.0,1207.5 1611.0,1204.5 1608.0,1202.8 1605.0,1201.5 1602.0,1206.6 1599.0,1198.7 1596.0,1202.5 1593.0,1194.8 1590.0,1195.0 1587.0,1192.5 1584.0,1189.7 1581.0,1189.2 1578.0,1181.7 1575.0,1175.7 1572.0,1170.8 1569.0,1171.3 1566.0,1165.5 1563.0,1158.0 1560.0,1157.7 1557.0,1156.3 1554.0,1144.1 1551.0,1133.8 1548.0,1116.3 1545.0,1110.1 1542.0,1111.0 1539.0,1105.7 1536.0,1094.9 1533.0,1094.3 1530.0,1092.4 1527.0,1087.6 1524.0,1083.6 1521.0,1083.8 1518.0,1075.1 1515.0,1074.4 1512.0,1069.4 1509.0,1059.7 1506.0,1053.7 1503.0,1049.5 1500.0,1040.0 1497.0,1041.4 1494.0,1034.4 1491.0,1027.4 1488.0,1019.0 1485.0,1016.7 1482.0,1011.7 1479.0,1009.2 1476.0,999.3 1473.0,1002.3 1470.0,995.7 1467.0,996.9 1464.0,988.5 1461.0,984.4 1458.0,983.3 1455.0,978.0 1452.0,977.4 1449.0,970.2 1446.0,964.2 1443.0,962.7 1440.0,954.2 1437.0,942.6 1434.0,936.6 1431.0,926.9 1428.0,914.3 1425.0,905.0" fill="#0f0" stroke="#0f0" stroke-width="3"/>
<line x1="1535.7" y1="984.0" x2="1535.7" y2="1100.0" stroke="#0f0" stroke-width="9"/><line x1="1627.0" y1="928.0" x2="1627.0" y2="1210.0" stroke="#0f0" stroke-width="9"/><line x1="1687.5" y1="939.0" x2="1687.5" y2="1255.0" stroke="#0f0" stroke-width="9"/><line x1="1732.0" y1="854.0" x2="1732.0" y2="1270.0" stroke="#0f0" stroke-width="9"/><line x1="1769.6" y1="871.0" x2="1769.6" y2="1285.0" stroke="#0f0" stroke-width="9"/><line x1="1798.0" y1="893.0" x2="1798.0" y2="1297.0" stroke="#0f0" stroke-width="9"/><line x1="1823.0" y1="1104.0" x2="1823.0" y2="1320.0" stroke="#0f0" stroke-width="9"/><line x1="1846.4" y1="952.0" x2="1846.4" y2="1330.0" stroke="#0f0" stroke-width="9"/><line x1="1866.0" y1="871.0" x2="1866.0" y2="1315.0" stroke="#0f0" stroke-width="9"/><line x1="1885.0" y1="982.0" x2="1885.0" y2="1318.0" stroke="#0f0" stroke-width="9"/><line x1="1900.7" y1="970.0" x2="1900.7" y2="1312.0" stroke="#0f0" stroke-width="9"/><line x1="1914.3" y1="1029.0" x2="1914.3" y2="1311.0" stroke="#0f0" stroke-width="9"/><line x1="1930.4" y1="948.0" x2="1930.4" y2="1311.0" stroke="#0f0" stroke-width="9"/><line x1="1943.0" y1="982.0" x2="1943.0" y2="1311.0" stroke="#0f0" stroke-width="9"/><line x1="1953.6" y1="1039.0" x2="1953.6" y2="1311.0" stroke="#0f0" stroke-width="9"/><line x1="1964.3" y1="950.0" x2="1964.3" y2="1311.0" stroke="#0f0" stroke-width="9"/><line x1="2003.6" y1="1032.0" x2="2003.6" y2="1290.0" stroke="#0f0" stroke-width="9"/><line x1="2014.3" y1="1057.0" x2="2014.3" y2="1268.0" stroke="#0f0" stroke-width="9"/><line x1="2028.6" y1="1093.0" x2="2028.6" y2="1254.0" stroke="#0f0" stroke-width="9"/><line x1="2043.0" y1="1104.0" x2="2043.0" y2="1266.0" stroke="#0f0" stroke-width="9"/>
<rect x="226" y="53" width="4" height="1334" fill="#d2d2d2"/>
<rect x="230" y="52" width="4" height="1335" fill="#5e5e5e"/>
<rect x="230" y="52" width="2059" height="4" fill="#5e5e5e"/>
<rect x="2285" y="52" width="4" height="1331" fill="#5e5e5e"/>
<rect x="230" y="1379" width="2059" height="4" fill="#bdbdbd"/>
<rect x="230" y="1383" width="2059" height="4" fill="#b0b0b0"/>
<rect x="350.9" y="1374" width="4" height="5" fill="#555"/><rect x="350.9" y="56" width="4" height="5" fill="#555"/><rect x="423.4" y="1374" width="4" height="5" fill="#555"/><rect x="423.4" y="56" width="4" height="5" fill="#555"/><rect x="474.8" y="1374" width="4" height="5" fill="#555"/><rect x="474.8" y="56" width="4" height="5" fill="#555"/><rect x="514.7" y="1374" width="4" height="5" fill="#555"/><rect x="514.7" y="56" width="4" height="5" fill="#555"/><rect x="547.3" y="1374" width="4" height="5" fill="#555"/><rect x="547.3" y="56" width="4" height="5" fill="#555"/><rect x="574.8" y="1374" width="4" height="5" fill="#555"/><rect x="574.8" y="56" width="4" height="5" fill="#555"/><rect x="598.7" y="1374" width="4" height="5" fill="#555"/><rect x="598.7" y="56" width="4" height="5" fill="#555"/><rect x="619.8" y="1374" width="4" height="5" fill="#555"/><rect x="619.8" y="56" width="4" height="5" fill="#555"/><rect x="638.6" y="1362" width="4" height="17" fill="#707070"/><rect x="638.6" y="56" width="4" height="17" fill="#707070"/><rect x="762.5" y="1374" width="4" height="5" fill="#555"/><rect x="762.5" y="56" width="4" height="5" fill="#555"/><rect x="835.0" y="1374" width="4" height="5" fill="#555"/><rect x="835.0" y="56" width="4" height="5" fill="#555"/><rect x="886.4" y="1374" width="4" height="5" fill="#555"/><rect x="886.4" y="56" width="4" height="5" fill="#555"/><rect x="926.3" y="1374" width="4" height="5" fill="#555"/><rect x="926.3" y="56" width="4" height="5" fill="#555"/><rect x="958.9" y="1374" width="4" height="5" fill="#555"/><rect x="958.9" y="56" width="4" height="5" fill="#555"/><rect x="986.4" y="1374" width="4" height="5" fill="#555"/><rect x="986.4" y="56" width="4" height="5" fill="#555"/><rect x="1010.3" y="1374" width="4" height="5" fill="#555"/><rect x="1010.3" y="56" width="4" height="5" fill="#555"/><rect x="1031.4" y="1374" width="4" height="5" fill="#555"/><rect x="1031.4" y="56" width="4" height="5" fill="#555"/><rect x="1050.2" y="1362" width="4" height="17" fill="#707070"/><rect x="1050.2" y="56" width="4" height="17" fill="#707070"/><rect x="1174.1" y="1374" width="4" height="5" fill="#555"/><rect x="1174.1" y="56" width="4" height="5" fill="#555"/><rect x="1246.6" y="1374" width="4" height="5" fill="#555"/><rect x="1246.6" y="56" width="4" height="5" fill="#555"/><rect x="1298.0" y="1374" width="4" height="5" fill="#555"/><rect x="1298.0" y="56" width="4" height="5" fill="#555"/><rect x="1337.9" y="1374" width="4" height="5" fill="#555"/><rect x="1337.9" y="56" width="4" height="5" fill="#555"/><rect x="1370.5" y="1374" width="4" height="5" fill="#555"/><rect x="1370.5" y="56" width="4" height="5" fill="#555"/><rect x="1398.0" y="1374" width="4" height="5" fill="#555"/><rect x="1398.0" y="56" width="4" height="5" fill="#555"/><rect x="1421.9" y="1374" width="4" height="5" fill="#555"/><rect x="1421.9" y="56" width="4" height="5" fill="#555"/><rect x="1443.0" y="1374" width="4" height="5" fill="#555"/><rect x="1443.0" y="56" width="4" height="5" fill="#555"/><rect x="1461.8" y="1362" width="4" height="17" fill="#707070"/><rect x="1461.8" y="56" width="4" height="17" fill="#707070"/><rect x="1585.7" y="1374" width="4" height="5" fill="#555"/><rect x="1585.7" y="56" width="4" height="5" fill="#555"/><rect x="1658.2" y="1374" width="4" height="5" fill="#555"/><rect x="1658.2" y="56" width="4" height="5" fill="#555"/><rect x="1709.6" y="1374" width="4" height="5" fill="#555"/><rect x="1709.6" y="56" width="4" height="5" fill="#555"/><rect x="1749.5" y="1374" width="4" height="5" fill="#555"/><rect x="1749.5" y="56" width="4" height="5" fill="#555"/><rect x="1782.1" y="1374" width="4" height="5" fill="#555"/><rect x="1782.1" y="56" width="4" height="5" fill="#555"/><rect x="1809.6" y="1374" width="4" height="5" fill="#555"/><rect x="1809.6" y="56" width="4" height="5" fill="#555"/><rect x="1833.5" y="1374" width="4" height="5" fill="#555"/><rect x="1833.5" y="56" width="4" height="5" fill="#555"/><rect x="1854.6" y="1374" width="4" height="5" fill="#555"/><rect x="1854.6" y="56" width="4" height="5" fill="#555"/><rect x="1873.4" y="1362" width="4" height="17" fill="#707070"/><rect x="1873.4" y="56" width="4" height="17" fill="#707070"/><rect x="1997.3" y="1374" width="4" height="5" fill="#555"/><rect x="1997.3" y="56" width="4" height="5" fill="#555"/><rect x="2069.8" y="1374" width="4" height="5" fill="#555"/><rect x="2069.8" y="56" width="4" height="5" fill="#555"/><rect x="2121.2" y="1374" width="4" height="5" fill="#555"/><rect x="2121.2" y="56" width="4" height="5" fill="#555"/><rect x="2161.1" y="1374" width="4" height="5" fill="#555"/><rect x="2161.1" y="56" width="4" height="5" fill="#555"/><rect x="2193.7" y="1374" width="4" height="5" fill="#555"/><rect x="2193.7" y="56" width="4" height="5" fill="#555"/><rect x="2221.2" y="1374" width="4" height="5" fill="#555"/><rect x="2221.2" y="56" width="4" height="5" fill="#555"/><rect x="2245.1" y="1374" width="4" height="5" fill="#555"/><rect x="2245.1" y="56" width="4" height="5" fill="#555"/><rect x="2266.2" y="1374" width="4" height="5" fill="#555"/><rect x="2266.2" y="56" width="4" height="5" fill="#555"/><rect x="234" y="1336.7" width="5" height="4" fill="#555"/><rect x="2280" y="1336.7" width="5" height="4" fill="#555"/><rect x="234" y="1310.7" width="5" height="4" fill="#555"/><rect x="2280" y="1310.7" width="5" height="4" fill="#555"/><rect x="234" y="1292.2" width="5" height="4" fill="#555"/><rect x="2280" y="1292.2" width="5" height="4" fill="#555"/><rect x="234" y="1277.9" width="5" height="4" fill="#555"/><rect x="2280" y="1277.9" width="5" height="4" fill="#555"/><rect x="234" y="1266.2" width="5" height="4" fill="#555"/><rect x="2280" y="1266.2" width="5" height="4" fill="#555"/><rect x="234" y="1256.3" width="5" height="4" fill="#555"/><rect x="2280" y="1256.3" width="5" height="4" fill="#555"/><rect x="234" y="1247.7" width="5" height="4" fill="#555"/><rect x="2280" y="1247.7" width="5" height="4" fill="#555"/><rect x="234" y="1240.2" width="5" height="4" fill="#555"/><rect x="2280" y="1240.2" width="5" height="4" fill="#555"/><rect x="234" y="1233.4" width="17" height="4" fill="#808080"/><rect x="2268" y="1233.4" width="17" height="4" fill="#808080"/><rect x="234" y="1188.9" width="5" height="4" fill="#555"/><rect x="2280" y="1188.9" width="5" height="4" fill="#555"/><rect x="234" y="1162.9" width="5" height="4" fill="#555"/><rect x="2280" y="1162.9" width="5" height="4" fill="#555"/><rect x="234" y="1144.4" width="5" height="4" fill="#555"/><rect x="2280" y="1144.4" width="5" height="4" fill="#555"/><rect x="234" y="1130.1" width="5" height="4" fill="#555"/><rect x="2280" y="1130.1" width="5" height="4" fill="#555"/><rect x="234" y="1118.4" width="5" height="4" fill="#555"/><rect x="2280" y="1118.4" width="5" height="4" fill="#555"/><rect x="234" y="1108.5" width="5" height="4" fill="#555"/><rect x="2280" y="1108.5" width="5" height="4" fill="#555"/><rect x="234" y="1099.9" width="5" height="4" fill="#555"/><rect x="2280" y="1099.9" width="5" height="4" fill="#555"/><rect x="234" y="1092.4" width="5" height="4" fill="#555"/><rect x="2280" y="1092.4" width="5" height="4" fill="#555"/><rect x="234" y="1085.6" width="5" height="4" fill="#555"/><rect x="2280" y="1085.6" width="5" height="4" fill="#555"/><rect x="234" y="1041.1" width="5" height="4" fill="#555"/><rect x="2280" y="1041.1" width="5" height="4" fill="#555"/><rect x="234" y="1015.1" width="5" height="4" fill="#555"/><rect x="2280" y="1015.1" width="5" height="4" fill="#555"/><rect x="234" y="996.6" width="5" height="4" fill="#555"/><rect x="2280" y="996.6" width="5" height="4" fill="#555"/><rect x="234" y="982.3" width="5" height="4" fill="#555"/><rect x="2280" y="982.3" width="5" height="4" fill="#555"/><rect x="234" y="970.6" width="5" height="4" fill="#555"/><rect x="2280" y="970.6" width="5" height="4" fill="#555"/><rect x="234" y="960.7" width="5" height="4" fill="#555"/><rect x="2280" y="960.7" width="5" height="4" fill="#555"/><rect x="234" y="952.1" width="5" height="4" fill="#555"/><rect x="2280" y="952.1" width="5" height="4" fill="#555"/><rect x="234" y="944.6" width="5" height="4" fill="#555"/><rect x="2280" y="944.6" width="5" height="4" fill="#555"/><rect x="234" y="937.8" width="17" height="4" fill="#808080"/><rect x="2268" y="937.8" width="17" height="4" fill="#808080"/><rect x="234" y="893.3" width="5" height="4" fill="#555"/><rect x="2280" y="893.3" width="5" height="4" fill="#555"/><rect x="234" y="867.3" width="5" height="4" fill="#555"/><rect x="2280" y="867.3" width="5" height="4" fill="#555"/><rect x="234" y="848.8" width="5" height="4" fill="#555"/><rect x="2280" y="848.8" width="5" height="4" fill="#555"/><rect x="234" y="834.5" width="5" height="4" fill="#555"/><rect x="2280" y="834.5" width="5" height="4" fill="#555"/><rect x="234" y="822.8" width="5" height="4" fill="#555"/><rect x="2280" y="822.8" width="5" height="4" fill="#555"/><rect x="234" y="812.9" width="5" height="4" fill="#555"/><rect x="2280" y="812.9" width="5" height="4" fill="#555"/><rect x="234" y="804.3" width="5" height="4" fill="#555"/><rect x="2280" y="804.3" width="5" height="4" fill="#555"/><rect x="234" y="796.8" width="5" height="4" fill="#555"/><rect x="2280" y="796.8" width="5" height="4" fill="#555"/><rect x="234" y="790.0" width="5" height="4" fill="#555"/><rect x="2280" y="790.0" width="5" height="4" fill="#555"/><rect x="234" y="745.5" width="5" height="4" fill="#555"/><rect x="2280" y="745.5" width="5" height="4" fill="#555"/><rect x="234" y="719.5" width="5" height="4" fill="#555"/><rect x="2280" y="719.5" width="5" height="4" fill="#555"/><rect x="234" y="701.0" width="5" height="4" fill="#555"/><rect x="2280" y="701.0" width="5" height="4" fill="#555"/><rect x="234" y="686.7" width="5" height="4" fill="#555"/><rect x="2280" y="686.7" width="5" height="4" fill="#555"/><rect x="234" y="675.0" width="5" height="4" fill="#555"/><rect x="2280" y="675.0" width="5" height="4" fill="#555"/><rect x="234" y="665.1" width="5" height="4" fill="#555"/><rect x="2280" y="665.1" width="5" height="4" fill="#555"/><rect x="234" y="656.5" width="5" height="4" fill="#555"/><rect x="2280" y="656.5" width="5" height="4" fill="#555"/><rect x="234" y="649.0" width="5" height="4" fill="#555"/><rect x="2280" y="649.0" width="5" height="4" fill="#555"/><rect x="234" y="642.2" width="17" height="4" fill="#808080"/><rect x="2268" y="642.2" width="17" height="4" fill="#808080"/><rect x="234" y="597.7" width="5" height="4" fill="#555"/><rect x="2280" y="597.7" width="5" height="4" fill="#555"/><rect x="234" y="571.7" width="5" height="4" fill="#555"/><rect x="2280" y="571.7" width="5" height="4" fill="#555"/><rect x="234" y="553.2" width="5" height="4" fill="#555"/><rect x="2280" y="553.2" width="5" height="4" fill="#555"/><rect x="234" y="538.9" width="5" height="4" fill="#555"/><rect x="2280" y="538.9" width="5" height="4" fill="#555"/><rect x="234" y="527.2" width="5" height="4" fill="#555"/><rect x="2280" y="527.2" width="5" height="4" fill="#555"/><rect x="234" y="517.3" width="5" height="4" fill="#555"/><rect x="2280" y="517.3" width="5" height="4" fill="#555"/><rect x="234" y="508.7" width="5" height="4" fill="#555"/><rect x="2280" y="508.7" width="5" height="4" fill="#555"/><rect x="234" y="501.2" width="5" height="4" fill="#555"/><rect x="2280" y="501.2" width="5" height="4" fill="#555"/><rect x="234" y="494.4" width="5" height="4" fill="#555"/><rect x="2280" y="494.4" width="5" height="4" fill="#555"/><rect x="234" y="449.9" width="5" height="4" fill="#555"/><rect x="2280" y="449.9" width="5" height="4" fill="#555"/><rect x="234" y="423.9" width="5" height="4" fill="#555"/><rect x="2280" y="423.9" width="5" height="4" fill="#555"/><rect x="234" y="405.4" width="5" height="4" fill="#555"/><rect x="2280" y="405.4" width="5" height="4" fill="#555"/><rect x="234" y="391.1" width="5" height="4" fill="#555"/><rect x="2280" y="391.1" width="5" height="4" fill="#555"/><rect x="234" y="379.4" width="5" height="4" fill="#555"/><rect x="2280" y="379.4" width="5" height="4" fill="#555"/><rect x="234" y="369.5" width="5" height="4" fill="#555"/><rect x="2280" y="369.5" width="5" height="4" fill="#555"/><rect x="234" y="360.9" width="5" height="4" fill="#555"/><rect x="2280" y="360.9" width="5" height="4" fill="#555"/><rect x="234" y="353.4" width="5" height="4" fill="#555"/><rect x="2280" y="353.4" width="5" height="4" fill="#555"/><rect x="234" y="346.6" width="17" height="4" fill="#808080"/><rect x="2268" y="346.6" width="17" height="4" fill="#808080"/><rect x="234" y="302.1" width="5" height="4" fill="#555"/><rect x="2280" y="302.1" width="5" height="4" fill="#555"/><rect x="234" y="276.1" width="5" height="4" fill="#555"/><rect x="2280" y="276.1" width="5" height="4" fill="#555"/><rect x="234" y="257.6" width="5" height="4" fill="#555"/><rect x="2280" y="257.6" width="5" height="4" fill="#555"/><rect x="234" y="243.3" width="5" height="4" fill="#555"/><rect x="2280" y="243.3" width="5" height="4" fill="#555"/><rect x="234" y="231.6" width="5" height="4" fill="#555"/><rect x="2280" y="231.6" width="5" height="4" fill="#555"/><rect x="234" y="221.7" width="5" height="4" fill="#555"/><rect x="2280" y="221.7" width="5" height="4" fill="#555"/><rect x="234" y="213.1" width="5" height="4" fill="#555"/><rect x="2280" y="213.1" width="5" height="4" fill="#555"/><rect x="234" y="205.6" width="5" height="4" fill="#555"/><rect x="2280" y="205.6" width="5" height="4" fill="#555"/><rect x="234" y="198.8" width="5" height="4" fill="#555"/><rect x="2280" y="198.8" width="5" height="4" fill="#555"/><rect x="234" y="154.3" width="5" height="4" fill="#555"/><rect x="2280" y="154.3" width="5" height="4" fill="#555"/><rect x="234" y="128.3" width="5" height="4" fill="#555"/><rect x="2280" y="128.3" width="5" height="4" fill="#555"/><rect x="234" y="109.8" width="5" height="4" fill="#555"/><rect x="2280" y="109.8" width="5" height="4" fill="#555"/><rect x="234" y="95.5" width="5" height="4" fill="#555"/><rect x="2280" y="95.5" width="5" height="4" fill="#555"/><rect x="234" y="83.8" width="5" height="4" fill="#555"/><rect x="2280" y="83.8" width="5" height="4" fill="#555"/><rect x="234" y="73.9" width="5" height="4" fill="#555"/><rect x="2280" y="73.9" width="5" height="4" fill="#555"/><rect x="234" y="65.3" width="5" height="4" fill="#555"/><rect x="2280" y="65.3" width="5" height="4" fill="#555"/><rect x="234" y="57.8" width="5" height="4" fill="#555"/><rect x="2280" y="57.8" width="5" height="4" fill="#555"/>
<rect x="1947" y="72" width="312" height="297" fill="#fff"/>
<rect x="1944" y="68" width="316" height="4" fill="#cccccc"/>
<rect x="1944" y="72" width="316" height="4" fill="#a2a2a2"/>
<rect x="1943" y="72" width="4" height="297" fill="#aaaaaa"/>
<rect x="1947" y="76" width="4" height="293" fill="#c2c2c2"/>
<rect x="2255" y="72" width="5" height="297" fill="#6e6e6e"/>
<rect x="1943" y="365" width="317" height="4" fill="#6e6e6e"/>
<rect x="1956" y="110.5" width="86" height="9" fill="#000"/>
<text x="2049" y="136.5" font-family="'Liberation Sans', Arial, Helvetica, sans-serif" font-weight="bold" font-size="52" fill="#000">0.16m/s</text>
<rect x="1956" y="181.0" width="86" height="9" fill="#00f"/>
<text x="2049" y="207" font-family="'Liberation Sans', Arial, Helvetica, sans-serif" font-weight="bold" font-size="52" fill="#000">0.20m/s</text>
<rect x="1956" y="254.0" width="86" height="9" fill="#f00"/>
<text x="2049" y="278" font-family="'Liberation Sans', Arial, Helvetica, sans-serif" font-weight="bold" font-size="52" fill="#000">0.28m/s</text>
<rect x="1956" y="324.5" width="86" height="9" fill="#0f0"/>
<text x="2049" y="348" font-family="'Liberation Sans', Arial, Helvetica, sans-serif" font-weight="bold" font-size="52" fill="#000">0.44m/s</text>
<line x1="1000.4" y1="140.7" x2="814.9" y2="237.8" stroke="#3a3a3a" stroke-width="3.5"/><polygon points="791,250.3 828.5,244.2 814.9,237.8 817.3,223.0" fill="#000"/>
<line x1="1003.4" y1="303.6" x2="909.8" y2="329.8" stroke="#3a3a3a" stroke-width="3.5"/><polygon points="883.8,337.1 921.7,338.9 909.8,329.8 915.2,315.8" fill="#000"/>
<line x1="652.6" y1="554" x2="717.7" y2="389.3" stroke="#3a3a3a" stroke-width="3.5"/><polygon points="727.6,364.2 703.2,393.3 717.7,389.3 725.5,402.1" fill="#000"/>
<line x1="423.7" y1="512.6" x2="488.7" y2="453.4" stroke="#3a3a3a" stroke-width="3.5"/><polygon points="508.7,435.2 474.0,450.6 488.7,453.4 490.2,468.3" fill="#000"/>
<text x="1008" y="134" font-family="'Liberation Sans', Arial, Helvetica, sans-serif" font-weight="bold" font-size="53" fill="#111" letter-spacing="0.55">Transitional-</text>
<text x="1009" y="207" font-family="'Liberation Sans', Arial, Helvetica, sans-serif" font-weight="bold" font-size="53" fill="#111">50%intermittency</text>
<text x="1014" y="296" font-family="'Liberation Sans', Arial, Helvetica, sans-serif" font-weight="bold" font-size="53" fill="#111">Fully</text>
<text x="1014" y="369" font-family="'Liberation Sans', Arial, Helvetica, sans-serif" font-weight="bold" font-size="53" fill="#111">turbulent</text>
<text x="286" y="528" font-family="'Liberation Sans', Arial, Helvetica, sans-serif" font-weight="bold" font-size="53" fill="#111">Fully</text>
<text x="286" y="600" font-family="'Liberation Sans', Arial, Helvetica, sans-serif" font-weight="bold" font-size="53" fill="#111">laminar</text>
<text x="562" y="600" font-family="'Liberation Sans', Arial, Helvetica, sans-serif" font-weight="bold" font-size="53" fill="#111">Onset of</text>
<text x="562" y="674" font-family="'Liberation Sans', Arial, Helvetica, sans-serif" font-weight="bold" font-size="53" fill="#111">transition</text>
<text x="129.8" y="76.5" font-family="'Liberation Sans', Arial, Helvetica, sans-serif" font-size="44" fill="#262626" stroke="#262626" stroke-width="1.2">10</text><text x="180.5" y="52.5" font-family="'Liberation Sans', Arial, Helvetica, sans-serif" font-size="34" fill="#262626" stroke="#262626" stroke-width="1">-4</text>
<text x="129.8" y="372.1" font-family="'Liberation Sans', Arial, Helvetica, sans-serif" font-size="44" fill="#262626" stroke="#262626" stroke-width="1.2">10</text><text x="180.5" y="348.1" font-family="'Liberation Sans', Arial, Helvetica, sans-serif" font-size="34" fill="#262626" stroke="#262626" stroke-width="1">-6</text>
<text x="129.8" y="667.7" font-family="'Liberation Sans', Arial, Helvetica, sans-serif" font-size="44" fill="#262626" stroke="#262626" stroke-width="1.2">10</text><text x="180.5" y="643.7" font-family="'Liberation Sans', Arial, Helvetica, sans-serif" font-size="34" fill="#262626" stroke="#262626" stroke-width="1">-8</text>
<text x="110.9" y="963.3" font-family="'Liberation Sans', Arial, Helvetica, sans-serif" font-size="44" fill="#262626" stroke="#262626" stroke-width="1.2">10</text><text x="161.6" y="939.3" font-family="'Liberation Sans', Arial, Helvetica, sans-serif" font-size="34" fill="#262626" stroke="#262626" stroke-width="1">-10</text>
<text x="110.9" y="1258.9" font-family="'Liberation Sans', Arial, Helvetica, sans-serif" font-size="44" fill="#262626" stroke="#262626" stroke-width="1.2">10</text><text x="161.6" y="1234.9" font-family="'Liberation Sans', Arial, Helvetica, sans-serif" font-size="34" fill="#262626" stroke="#262626" stroke-width="1">-12</text>
<text x="187.5" y="1462.0" font-family="'Liberation Sans', Arial, Helvetica, sans-serif" font-size="44" fill="#262626" stroke="#262626" stroke-width="1.2">10</text><text x="238.2" y="1440.0" font-family="'Liberation Sans', Arial, Helvetica, sans-serif" font-size="34" fill="#262626" stroke="#262626" stroke-width="1">-1</text>
<text x="604.8" y="1462.0" font-family="'Liberation Sans', Arial, Helvetica, sans-serif" font-size="44" fill="#262626" stroke="#262626" stroke-width="1.2">10</text><text x="655.5" y="1440.0" font-family="'Liberation Sans', Arial, Helvetica, sans-serif" font-size="34" fill="#262626" stroke="#262626" stroke-width="1">0</text>
<text x="1016.9" y="1462.0" font-family="'Liberation Sans', Arial, Helvetica, sans-serif" font-size="44" fill="#262626" stroke="#262626" stroke-width="1.2">10</text><text x="1066.5" y="1440.0" font-family="'Liberation Sans', Arial, Helvetica, sans-serif" font-size="34" fill="#262626" stroke="#262626" stroke-width="1">1</text>
<text x="1428.0" y="1462.0" font-family="'Liberation Sans', Arial, Helvetica, sans-serif" font-size="44" fill="#262626" stroke="#262626" stroke-width="1.2">10</text><text x="1478.7" y="1440.0" font-family="'Liberation Sans', Arial, Helvetica, sans-serif" font-size="34" fill="#262626" stroke="#262626" stroke-width="1">2</text>
<text x="1839.6" y="1462.0" font-family="'Liberation Sans', Arial, Helvetica, sans-serif" font-size="44" fill="#262626" stroke="#262626" stroke-width="1.2">10</text><text x="1890.3" y="1440.0" font-family="'Liberation Sans', Arial, Helvetica, sans-serif" font-size="34" fill="#262626" stroke="#262626" stroke-width="1">3</text>
<text x="2250.7" y="1462.0" font-family="'Liberation Sans', Arial, Helvetica, sans-serif" font-size="44" fill="#262626" stroke="#262626" stroke-width="1.2">10</text><text x="2302.3" y="1440.0" font-family="'Liberation Sans', Arial, Helvetica, sans-serif" font-size="34" fill="#262626" stroke="#262626" stroke-width="1">4</text>
<text x="1256" y="1530" font-family="'Liberation Sans', Arial, Helvetica, sans-serif" font-weight="bold" font-size="50" fill="#262626" text-anchor="middle">Frequency(Hz)</text>
<text transform="translate(85,718) rotate(-90)" x="0" y="0" font-family="'Liberation Sans', Arial, Helvetica, sans-serif" font-weight="bold" font-size="50" fill="#262626" text-anchor="middle">Power density(dB/Hz)</text>
</svg>
</body></html>
